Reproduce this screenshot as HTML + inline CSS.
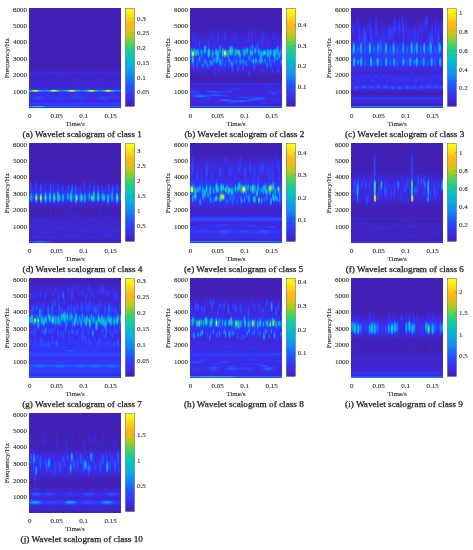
<!DOCTYPE html>
<html><head><meta charset="utf-8"><title>Wavelet scalograms</title>
<style>html,body{margin:0;padding:0;background:#fff}body{width:473px;height:550px;position:relative;overflow:hidden}</style></head>
<body>
<svg width="473" height="550" viewBox="0 0 473 550" style="position:absolute;left:0;top:0;font-family:'Liberation Serif',serif">
<defs>
<filter id="parula" filterUnits="userSpaceOnUse" x="0" y="0" width="91.0" height="99.4" color-interpolation-filters="sRGB"><feComponentTransfer>
<feFuncR type="table" tableValues="0.263 0.260 0.255 0.250 0.242 0.232 0.220 0.206 0.195 0.188 0.181 0.170 0.158 0.145 0.128 0.107 0.088 0.081 0.079 0.078 0.074 0.065 0.060 0.056 0.048 0.041 0.033 0.020 0.006 0.000 0.001 0.011 0.036 0.062 0.084 0.100 0.117 0.142 0.181 0.229 0.281 0.354 0.440 0.522 0.599 0.672 0.738 0.797 0.845 0.889 0.931 0.967 1.000 1.000 1.000 1.000 1.000 1.000 0.997 0.990 0.988 0.992 0.998 0.992"/>
<feFuncG type="table" tableValues="0.125 0.133 0.143 0.152 0.161 0.172 0.185 0.199 0.218 0.238 0.258 0.277 0.298 0.322 0.349 0.382 0.420 0.455 0.486 0.513 0.540 0.567 0.592 0.616 0.640 0.663 0.685 0.706 0.726 0.742 0.753 0.763 0.772 0.781 0.790 0.799 0.808 0.816 0.821 0.825 0.827 0.826 0.823 0.818 0.811 0.803 0.793 0.780 0.763 0.746 0.731 0.718 0.709 0.706 0.733 0.764 0.799 0.839 0.877 0.907 0.936 0.963 0.989 1.000"/>
<feFuncB type="table" tableValues="0.678 0.727 0.772 0.818 0.861 0.897 0.926 0.950 0.970 0.987 1.000 1.000 1.000 1.000 1.000 1.000 1.000 1.000 0.997 0.981 0.964 0.949 0.935 0.924 0.915 0.903 0.886 0.865 0.841 0.815 0.789 0.761 0.730 0.695 0.658 0.618 0.574 0.525 0.469 0.408 0.340 0.281 0.237 0.194 0.155 0.123 0.098 0.078 0.068 0.071 0.081 0.102 0.122 0.116 0.104 0.092 0.083 0.077 0.070 0.063 0.056 0.047 0.036 0.023"/>
</feComponentTransfer></filter>
<filter id="bl" filterUnits="userSpaceOnUse" x="-15" y="-15" width="121" height="129" color-interpolation-filters="sRGB"><feGaussianBlur stdDeviation="2.40 3.00"/></filter>
<filter id="bm" filterUnits="userSpaceOnUse" x="-15" y="-15" width="121" height="129" color-interpolation-filters="sRGB"><feGaussianBlur stdDeviation="0.90 1.10"/></filter>
<filter id="bs" filterUnits="userSpaceOnUse" x="-15" y="-15" width="121" height="129" color-interpolation-filters="sRGB"><feGaussianBlur stdDeviation="0.60 1.30"/></filter>
<filter id="bh" filterUnits="userSpaceOnUse" x="-15" y="-15" width="121" height="129" color-interpolation-filters="sRGB"><feGaussianBlur stdDeviation="1.40 0.45"/></filter>
<filter id="bd" filterUnits="userSpaceOnUse" x="-15" y="-15" width="121" height="129" color-interpolation-filters="sRGB"><feGaussianBlur stdDeviation="0.60 0.70"/></filter>
<linearGradient id="cb" x1="0" y1="1" x2="0" y2="0"><stop offset="0.000" stop-color="#4320ad"/><stop offset="0.048" stop-color="#4027d1"/><stop offset="0.095" stop-color="#382fec"/><stop offset="0.143" stop-color="#303dfc"/><stop offset="0.190" stop-color="#284cff"/><stop offset="0.238" stop-color="#1b62ff"/><stop offset="0.286" stop-color="#147cfe"/><stop offset="0.333" stop-color="#1191f2"/><stop offset="0.381" stop-color="#0ca3e9"/><stop offset="0.429" stop-color="#05b4dc"/><stop offset="0.476" stop-color="#00c0c9"/><stop offset="0.524" stop-color="#10c7b1"/><stop offset="0.571" stop-color="#1ece92"/><stop offset="0.619" stop-color="#3ad268"/><stop offset="0.667" stop-color="#70d23c"/><stop offset="0.714" stop-color="#abcd1f"/><stop offset="0.762" stop-color="#d7c311"/><stop offset="0.810" stop-color="#f7b71a"/><stop offset="0.857" stop-color="#ffbb1a"/><stop offset="0.905" stop-color="#ffd614"/><stop offset="0.952" stop-color="#fcef0e"/><stop offset="1.000" stop-color="#fdff06"/></linearGradient>
<filter id="tb" x="-5%" y="-5%" width="110%" height="110%"><feGaussianBlur stdDeviation="0.3"/></filter>
</defs>
<g transform="translate(29.70,8.40)">
<g filter="url(#parula)">
<rect x="-5" y="-5" width="101.0" height="109.4" fill="#000"/>
<g filter="url(#bl)" fill="#fff">
<rect x="-5.0" y="67.0" width="101.0" height="34.0" opacity="0.035"/>
</g>
<g filter="url(#bm)" fill="#fff">
<rect x="-5.0" y="-5.0" width="101.0" height="109.4" opacity="0.012"/>
<rect x="-5.0" y="63.3" width="101.0" height="2.6" opacity="0.075"/>
<rect x="-5.0" y="80.1" width="101.0" height="5.0" opacity="0.070"/>
<rect x="-5.0" y="85.5" width="101.0" height="7.0" opacity="0.050"/>
<ellipse cx="44.0" cy="87.9" rx="5.0" ry="1.0" opacity="0.100"/>
<ellipse cx="51.1" cy="89.9" rx="5.0" ry="1.0" opacity="0.100"/>
<ellipse cx="8.5" cy="89.3" rx="5.0" ry="1.0" opacity="0.160"/>
<ellipse cx="73.5" cy="89.9" rx="5.0" ry="1.0" opacity="0.160"/>
<ellipse cx="28.8" cy="90.9" rx="5.0" ry="1.0" opacity="0.080"/>
<ellipse cx="83.6" cy="87.9" rx="5.0" ry="1.0" opacity="0.100"/>
<ellipse cx="20.7" cy="86.9" rx="5.0" ry="1.0" opacity="0.080"/>
<rect x="-5.0" y="94.8" width="101.0" height="1.6" opacity="0.220"/>
</g>
<g filter="url(#bs)" fill="#fff">
<ellipse cx="0.4" cy="73.9" rx="0.8" ry="2.2" opacity="0.038"/>
<ellipse cx="5.0" cy="66.8" rx="1.1" ry="1.6" opacity="0.023"/>
<ellipse cx="8.6" cy="66.4" rx="0.7" ry="2.2" opacity="0.048"/>
<ellipse cx="9.8" cy="73.1" rx="1.1" ry="2.9" opacity="0.023"/>
<ellipse cx="12.2" cy="64.1" rx="0.9" ry="1.8" opacity="0.037"/>
<ellipse cx="15.3" cy="69.2" rx="0.8" ry="2.2" opacity="0.040"/>
<ellipse cx="18.9" cy="71.3" rx="0.9" ry="1.9" opacity="0.023"/>
<ellipse cx="23.8" cy="73.1" rx="0.9" ry="2.5" opacity="0.028"/>
<ellipse cx="27.3" cy="72.0" rx="0.8" ry="2.6" opacity="0.048"/>
<ellipse cx="30.1" cy="69.8" rx="0.9" ry="2.7" opacity="0.046"/>
<ellipse cx="31.3" cy="65.7" rx="1.1" ry="2.3" opacity="0.043"/>
<ellipse cx="33.5" cy="67.8" rx="0.8" ry="2.7" opacity="0.037"/>
<ellipse cx="36.9" cy="66.5" rx="1.0" ry="2.1" opacity="0.038"/>
<ellipse cx="41.0" cy="69.6" rx="1.0" ry="2.3" opacity="0.036"/>
<ellipse cx="44.0" cy="71.9" rx="1.0" ry="3.0" opacity="0.043"/>
<ellipse cx="46.7" cy="71.2" rx="0.8" ry="2.3" opacity="0.057"/>
<ellipse cx="50.9" cy="65.2" rx="0.8" ry="2.3" opacity="0.056"/>
<ellipse cx="53.3" cy="69.5" rx="0.9" ry="1.9" opacity="0.042"/>
<ellipse cx="57.5" cy="76.2" rx="1.1" ry="2.8" opacity="0.049"/>
<ellipse cx="60.1" cy="71.2" rx="0.9" ry="2.3" opacity="0.037"/>
<ellipse cx="60.8" cy="73.7" rx="0.8" ry="2.3" opacity="0.039"/>
<ellipse cx="64.8" cy="68.2" rx="0.8" ry="2.3" opacity="0.044"/>
<ellipse cx="68.6" cy="70.3" rx="0.8" ry="1.8" opacity="0.043"/>
<ellipse cx="72.4" cy="71.2" rx="1.1" ry="2.7" opacity="0.051"/>
<ellipse cx="73.6" cy="73.4" rx="0.7" ry="1.5" opacity="0.022"/>
<ellipse cx="78.1" cy="67.2" rx="0.8" ry="1.7" opacity="0.044"/>
<ellipse cx="79.9" cy="72.6" rx="0.9" ry="1.8" opacity="0.032"/>
<ellipse cx="84.1" cy="71.7" rx="0.9" ry="2.0" opacity="0.039"/>
<ellipse cx="85.0" cy="68.6" rx="0.8" ry="1.7" opacity="0.054"/>
<ellipse cx="89.5" cy="73.1" rx="0.8" ry="2.4" opacity="0.051"/>
</g>
<g filter="url(#bh)" fill="#fff">
<rect x="-5.0" y="81.7" width="101.0" height="1.5" opacity="0.270"/>
<ellipse cx="5.5" cy="82.4" rx="5.6" ry="1.1" opacity="0.420"/>
<ellipse cx="24.2" cy="82.4" rx="5.6" ry="1.1" opacity="0.420"/>
<ellipse cx="42.0" cy="82.4" rx="5.6" ry="1.1" opacity="0.420"/>
<ellipse cx="61.7" cy="82.4" rx="5.6" ry="1.1" opacity="0.420"/>
<ellipse cx="78.5" cy="82.4" rx="5.6" ry="1.1" opacity="0.420"/>
<rect x="-5.0" y="97.8" width="101.0" height="1.0" opacity="0.300"/>
</g>
<g filter="url(#bd)" fill="#fff">
<ellipse cx="5.5" cy="82.4" rx="3.2" ry="0.8" opacity="0.850"/>
<ellipse cx="24.2" cy="82.4" rx="3.2" ry="0.8" opacity="0.850"/>
<ellipse cx="42.0" cy="82.4" rx="3.2" ry="0.8" opacity="0.850"/>
<ellipse cx="61.7" cy="82.4" rx="3.2" ry="0.8" opacity="0.850"/>
<ellipse cx="78.5" cy="82.4" rx="3.2" ry="0.8" opacity="0.850"/>
<ellipse cx="8.0" cy="98.2" rx="8.0" ry="0.6" opacity="0.500"/>
</g>
</g>
<g filter="url(#tb)" stroke="#222" stroke-width="0.08">
<rect x="95.8" y="0.2" width="8.9" height="97.7" fill="url(#cb)" stroke="#333" stroke-width="0.4"/>
<line x1="103.5" x2="104.7" y1="9.90" y2="9.90" stroke="#333" stroke-width="0.4"/>
<text x="107.2" y="12.20" font-size="7" fill="#222">0.3</text>
<line x1="103.5" x2="104.7" y1="24.68" y2="24.68" stroke="#333" stroke-width="0.4"/>
<text x="107.2" y="26.98" font-size="7" fill="#222">0.25</text>
<line x1="103.5" x2="104.7" y1="39.46" y2="39.46" stroke="#333" stroke-width="0.4"/>
<text x="107.2" y="41.76" font-size="7" fill="#222">0.2</text>
<line x1="103.5" x2="104.7" y1="54.24" y2="54.24" stroke="#333" stroke-width="0.4"/>
<text x="107.2" y="56.54" font-size="7" fill="#222">0.15</text>
<line x1="103.5" x2="104.7" y1="69.02" y2="69.02" stroke="#333" stroke-width="0.4"/>
<text x="107.2" y="71.32" font-size="7" fill="#222">0.1</text>
<line x1="103.5" x2="104.7" y1="83.80" y2="83.80" stroke="#333" stroke-width="0.4"/>
<text x="107.2" y="86.10" font-size="7" fill="#222">0.05</text>
<text x="-2.6" y="85.53" font-size="7" text-anchor="end" fill="#222">1000</text>
<text x="-2.6" y="68.97" font-size="7" text-anchor="end" fill="#222">2000</text>
<text x="-2.6" y="52.40" font-size="7" text-anchor="end" fill="#222">3000</text>
<text x="-2.6" y="35.83" font-size="7" text-anchor="end" fill="#222">4000</text>
<text x="-2.6" y="19.27" font-size="7" text-anchor="end" fill="#222">5000</text>
<text x="-2.6" y="3.30" font-size="7" text-anchor="end" fill="#222">6000</text>
<text x="0.00" y="109.4" font-size="7" text-anchor="middle" fill="#222">0</text>
<text x="27.00" y="109.4" font-size="7" text-anchor="middle" fill="#222">0.05</text>
<text x="54.00" y="109.4" font-size="7" text-anchor="middle" fill="#222">0.1</text>
<text x="81.00" y="109.4" font-size="7" text-anchor="middle" fill="#222">0.15</text>
<text x="45.4" y="117.6" font-size="7" text-anchor="middle" fill="#222">Time/s</text>
<text transform="translate(-20.6,49.7) rotate(-90)" font-size="7.1" text-anchor="middle" fill="#222">Frequency/Hz</text>
<text x="-7.10" y="128.7" font-size="9.2" fill="#111" stroke-width="0.25">(a) Wavelet scalogram of class 1</text>
</g>
</g>
<g transform="translate(190.60,8.40)">
<g filter="url(#parula)">
<rect x="-5" y="-5" width="101.0" height="109.4" fill="#000"/>
<g filter="url(#bl)" fill="#fff">
<rect x="-5.0" y="22.0" width="101.0" height="44.0" opacity="0.030"/>
<rect x="-5.0" y="38.0" width="101.0" height="20.0" opacity="0.060"/>
<rect x="-5.0" y="77.0" width="101.0" height="20.0" opacity="0.060"/>
</g>
<g filter="url(#bm)" fill="#fff">
<rect x="-5.0" y="-5.0" width="101.0" height="109.4" opacity="0.012"/>
<rect x="-5.0" y="41.2" width="101.0" height="7.0" opacity="0.090"/>
<rect x="-5.0" y="49.4" width="101.0" height="8.0" opacity="0.060"/>
<ellipse cx="2.4" cy="45.3" rx="2.5" ry="3.0" opacity="0.300"/>
<ellipse cx="34.5" cy="44.7" rx="2.5" ry="3.2" opacity="0.300"/>
</g>
<g filter="url(#bs)" fill="#fff">
<ellipse cx="2.2" cy="32.3" rx="0.6" ry="6.3" opacity="0.079"/>
<ellipse cx="3.8" cy="30.6" rx="0.7" ry="5.4" opacity="0.071"/>
<ellipse cx="5.9" cy="33.4" rx="0.8" ry="5.9" opacity="0.094"/>
<ellipse cx="9.0" cy="34.6" rx="0.8" ry="4.8" opacity="0.052"/>
<ellipse cx="9.2" cy="35.5" rx="0.7" ry="4.5" opacity="0.088"/>
<ellipse cx="12.6" cy="31.8" rx="0.8" ry="3.9" opacity="0.038"/>
<ellipse cx="14.4" cy="34.2" rx="1.0" ry="5.7" opacity="0.047"/>
<ellipse cx="18.0" cy="34.7" rx="0.9" ry="5.9" opacity="0.089"/>
<ellipse cx="19.9" cy="32.0" rx="1.0" ry="6.8" opacity="0.046"/>
<ellipse cx="22.2" cy="27.4" rx="0.9" ry="4.8" opacity="0.067"/>
<ellipse cx="23.9" cy="35.3" rx="1.0" ry="4.4" opacity="0.087"/>
<ellipse cx="27.1" cy="28.9" rx="0.8" ry="5.3" opacity="0.090"/>
<ellipse cx="28.9" cy="28.2" rx="0.7" ry="5.8" opacity="0.046"/>
<ellipse cx="31.6" cy="31.3" rx="0.7" ry="6.6" opacity="0.054"/>
<ellipse cx="34.0" cy="29.8" rx="0.8" ry="5.6" opacity="0.070"/>
<ellipse cx="34.8" cy="26.5" rx="0.7" ry="5.0" opacity="0.090"/>
<ellipse cx="37.8" cy="37.6" rx="0.9" ry="6.6" opacity="0.047"/>
<ellipse cx="40.4" cy="34.4" rx="0.6" ry="5.6" opacity="0.052"/>
<ellipse cx="41.5" cy="32.4" rx="0.8" ry="6.4" opacity="0.050"/>
<ellipse cx="43.7" cy="29.7" rx="1.0" ry="4.7" opacity="0.078"/>
<ellipse cx="45.6" cy="29.5" rx="0.9" ry="3.3" opacity="0.092"/>
<ellipse cx="47.8" cy="32.9" rx="0.9" ry="3.1" opacity="0.051"/>
<ellipse cx="51.9" cy="32.5" rx="0.9" ry="4.5" opacity="0.039"/>
<ellipse cx="54.6" cy="33.2" rx="0.6" ry="3.1" opacity="0.056"/>
<ellipse cx="56.0" cy="31.0" rx="0.7" ry="3.1" opacity="0.062"/>
<ellipse cx="58.6" cy="29.1" rx="0.9" ry="6.6" opacity="0.080"/>
<ellipse cx="61.1" cy="29.8" rx="0.7" ry="5.6" opacity="0.055"/>
<ellipse cx="61.7" cy="26.7" rx="0.8" ry="6.5" opacity="0.044"/>
<ellipse cx="65.0" cy="27.3" rx="0.6" ry="6.8" opacity="0.051"/>
<ellipse cx="67.4" cy="34.1" rx="0.8" ry="3.1" opacity="0.069"/>
<ellipse cx="68.6" cy="32.0" rx="0.6" ry="3.4" opacity="0.073"/>
<ellipse cx="71.7" cy="31.4" rx="1.0" ry="6.7" opacity="0.094"/>
<ellipse cx="73.3" cy="28.2" rx="0.8" ry="5.5" opacity="0.083"/>
<ellipse cx="76.7" cy="32.1" rx="0.7" ry="4.7" opacity="0.067"/>
<ellipse cx="77.4" cy="35.1" rx="0.6" ry="5.9" opacity="0.050"/>
<ellipse cx="79.9" cy="32.0" rx="0.7" ry="3.9" opacity="0.049"/>
<ellipse cx="83.1" cy="27.7" rx="0.9" ry="3.8" opacity="0.089"/>
<ellipse cx="86.4" cy="31.8" rx="0.9" ry="4.7" opacity="0.066"/>
<ellipse cx="87.8" cy="35.0" rx="0.8" ry="3.7" opacity="0.042"/>
<ellipse cx="90.6" cy="32.4" rx="0.7" ry="5.1" opacity="0.090"/>
<ellipse cx="1.1" cy="42.4" rx="0.9" ry="2.5" opacity="0.344"/>
<ellipse cx="2.0" cy="49.4" rx="0.8" ry="4.2" opacity="0.340"/>
<ellipse cx="3.7" cy="41.9" rx="0.9" ry="2.9" opacity="0.316"/>
<ellipse cx="5.6" cy="44.5" rx="0.8" ry="3.2" opacity="0.416"/>
<ellipse cx="7.4" cy="43.9" rx="1.0" ry="3.3" opacity="0.279"/>
<ellipse cx="10.5" cy="42.5" rx="0.9" ry="2.7" opacity="0.180"/>
<ellipse cx="11.1" cy="45.5" rx="1.1" ry="3.9" opacity="0.152"/>
<ellipse cx="13.9" cy="41.5" rx="1.0" ry="3.9" opacity="0.289"/>
<ellipse cx="15.2" cy="40.4" rx="0.8" ry="3.6" opacity="0.283"/>
<ellipse cx="18.1" cy="44.8" rx="1.1" ry="4.4" opacity="0.387"/>
<ellipse cx="18.7" cy="44.1" rx="0.8" ry="3.4" opacity="0.342"/>
<ellipse cx="21.7" cy="46.1" rx="1.0" ry="4.1" opacity="0.173"/>
<ellipse cx="22.5" cy="45.0" rx="0.9" ry="2.6" opacity="0.170"/>
<ellipse cx="25.3" cy="43.8" rx="1.1" ry="3.8" opacity="0.182"/>
<ellipse cx="26.0" cy="44.2" rx="1.0" ry="3.4" opacity="0.297"/>
<ellipse cx="27.5" cy="46.8" rx="0.9" ry="4.4" opacity="0.364"/>
<ellipse cx="29.3" cy="40.7" rx="0.8" ry="4.3" opacity="0.279"/>
<ellipse cx="32.2" cy="43.5" rx="0.9" ry="4.5" opacity="0.372"/>
<ellipse cx="33.8" cy="45.2" rx="0.7" ry="3.7" opacity="0.401"/>
<ellipse cx="34.9" cy="45.5" rx="0.9" ry="3.5" opacity="0.262"/>
<ellipse cx="37.7" cy="46.7" rx="0.9" ry="4.4" opacity="0.241"/>
<ellipse cx="39.6" cy="42.6" rx="1.0" ry="4.0" opacity="0.392"/>
<ellipse cx="40.4" cy="42.4" rx="1.0" ry="4.5" opacity="0.329"/>
<ellipse cx="41.9" cy="42.4" rx="0.9" ry="3.9" opacity="0.401"/>
<ellipse cx="44.9" cy="44.0" rx="1.1" ry="4.0" opacity="0.321"/>
<ellipse cx="47.1" cy="43.5" rx="1.1" ry="2.7" opacity="0.382"/>
<ellipse cx="48.7" cy="44.9" rx="1.0" ry="2.9" opacity="0.378"/>
<ellipse cx="49.4" cy="47.0" rx="1.0" ry="3.4" opacity="0.219"/>
<ellipse cx="52.0" cy="42.5" rx="1.1" ry="2.6" opacity="0.146"/>
<ellipse cx="53.7" cy="44.1" rx="1.1" ry="3.8" opacity="0.364"/>
<ellipse cx="55.5" cy="43.0" rx="0.8" ry="3.5" opacity="0.153"/>
<ellipse cx="56.6" cy="42.2" rx="1.0" ry="2.8" opacity="0.363"/>
<ellipse cx="59.7" cy="41.4" rx="1.1" ry="4.2" opacity="0.184"/>
<ellipse cx="60.4" cy="45.5" rx="0.9" ry="3.4" opacity="0.230"/>
<ellipse cx="61.9" cy="39.0" rx="0.9" ry="3.6" opacity="0.256"/>
<ellipse cx="64.5" cy="42.0" rx="1.1" ry="3.1" opacity="0.333"/>
<ellipse cx="66.4" cy="39.5" rx="0.7" ry="4.1" opacity="0.233"/>
<ellipse cx="68.5" cy="42.8" rx="1.1" ry="3.8" opacity="0.259"/>
<ellipse cx="70.7" cy="46.2" rx="0.9" ry="3.6" opacity="0.392"/>
<ellipse cx="72.4" cy="45.4" rx="1.0" ry="3.1" opacity="0.213"/>
<ellipse cx="73.6" cy="44.0" rx="1.1" ry="2.7" opacity="0.382"/>
<ellipse cx="75.3" cy="45.4" rx="0.9" ry="3.1" opacity="0.167"/>
<ellipse cx="77.3" cy="44.9" rx="0.8" ry="4.3" opacity="0.412"/>
<ellipse cx="79.1" cy="45.7" rx="1.0" ry="4.4" opacity="0.240"/>
<ellipse cx="80.3" cy="43.9" rx="1.0" ry="3.2" opacity="0.248"/>
<ellipse cx="83.3" cy="45.1" rx="0.8" ry="4.1" opacity="0.329"/>
<ellipse cx="84.4" cy="44.7" rx="1.1" ry="4.4" opacity="0.291"/>
<ellipse cx="86.8" cy="42.2" rx="1.1" ry="4.0" opacity="0.363"/>
<ellipse cx="88.9" cy="46.9" rx="1.1" ry="3.1" opacity="0.326"/>
<ellipse cx="90.4" cy="42.5" rx="0.9" ry="3.3" opacity="0.196"/>
<ellipse cx="2.2" cy="51.4" rx="1.1" ry="2.1" opacity="0.367"/>
<ellipse cx="2.6" cy="54.6" rx="0.7" ry="2.4" opacity="0.210"/>
<ellipse cx="6.6" cy="55.3" rx="0.9" ry="2.7" opacity="0.178"/>
<ellipse cx="8.7" cy="50.5" rx="0.9" ry="2.3" opacity="0.282"/>
<ellipse cx="9.4" cy="50.9" rx="0.7" ry="2.0" opacity="0.169"/>
<ellipse cx="11.9" cy="56.9" rx="0.9" ry="2.2" opacity="0.205"/>
<ellipse cx="14.2" cy="52.9" rx="0.8" ry="2.4" opacity="0.316"/>
<ellipse cx="16.1" cy="55.5" rx="0.8" ry="3.2" opacity="0.228"/>
<ellipse cx="20.0" cy="54.4" rx="1.1" ry="2.4" opacity="0.316"/>
<ellipse cx="21.9" cy="54.6" rx="0.9" ry="3.5" opacity="0.218"/>
<ellipse cx="23.8" cy="51.5" rx="1.1" ry="2.8" opacity="0.269"/>
<ellipse cx="26.3" cy="51.6" rx="1.1" ry="3.5" opacity="0.335"/>
<ellipse cx="28.3" cy="50.7" rx="0.7" ry="2.0" opacity="0.376"/>
<ellipse cx="29.9" cy="54.1" rx="1.1" ry="3.0" opacity="0.355"/>
<ellipse cx="32.0" cy="51.5" rx="0.7" ry="2.0" opacity="0.208"/>
<ellipse cx="34.5" cy="56.1" rx="0.8" ry="2.9" opacity="0.140"/>
<ellipse cx="38.6" cy="52.4" rx="1.1" ry="2.2" opacity="0.242"/>
<ellipse cx="39.9" cy="52.3" rx="0.8" ry="2.7" opacity="0.132"/>
<ellipse cx="41.4" cy="56.0" rx="0.9" ry="3.0" opacity="0.345"/>
<ellipse cx="43.5" cy="51.0" rx="0.9" ry="2.0" opacity="0.146"/>
<ellipse cx="45.7" cy="52.9" rx="0.8" ry="2.4" opacity="0.279"/>
<ellipse cx="49.7" cy="53.4" rx="1.1" ry="3.0" opacity="0.248"/>
<ellipse cx="52.1" cy="53.3" rx="1.1" ry="2.9" opacity="0.171"/>
<ellipse cx="53.2" cy="53.6" rx="0.8" ry="2.5" opacity="0.228"/>
<ellipse cx="55.5" cy="53.9" rx="0.9" ry="2.6" opacity="0.190"/>
<ellipse cx="58.6" cy="49.3" rx="1.1" ry="2.2" opacity="0.300"/>
<ellipse cx="60.7" cy="52.5" rx="0.9" ry="2.1" opacity="0.167"/>
<ellipse cx="62.7" cy="52.4" rx="1.0" ry="2.9" opacity="0.310"/>
<ellipse cx="65.3" cy="52.2" rx="1.0" ry="3.2" opacity="0.334"/>
<ellipse cx="67.3" cy="52.9" rx="0.7" ry="2.1" opacity="0.144"/>
<ellipse cx="69.7" cy="51.5" rx="1.1" ry="3.5" opacity="0.351"/>
<ellipse cx="71.6" cy="52.4" rx="0.8" ry="2.2" opacity="0.331"/>
<ellipse cx="74.4" cy="52.0" rx="1.0" ry="2.5" opacity="0.224"/>
<ellipse cx="76.7" cy="57.0" rx="0.9" ry="2.9" opacity="0.148"/>
<ellipse cx="78.9" cy="52.2" rx="0.8" ry="2.4" opacity="0.256"/>
<ellipse cx="80.5" cy="57.1" rx="0.9" ry="3.4" opacity="0.169"/>
<ellipse cx="83.7" cy="51.5" rx="0.9" ry="2.6" opacity="0.206"/>
<ellipse cx="85.3" cy="49.5" rx="0.8" ry="2.1" opacity="0.240"/>
<ellipse cx="86.9" cy="50.2" rx="0.8" ry="2.1" opacity="0.274"/>
<ellipse cx="90.7" cy="53.3" rx="0.8" ry="2.8" opacity="0.288"/>
<ellipse cx="2.7" cy="59.2" rx="0.8" ry="2.8" opacity="0.093"/>
<ellipse cx="3.1" cy="58.1" rx="1.1" ry="1.8" opacity="0.094"/>
<ellipse cx="7.0" cy="59.9" rx="0.8" ry="2.2" opacity="0.107"/>
<ellipse cx="11.6" cy="64.1" rx="0.7" ry="2.4" opacity="0.073"/>
<ellipse cx="12.6" cy="58.2" rx="0.7" ry="2.4" opacity="0.164"/>
<ellipse cx="17.1" cy="58.6" rx="0.9" ry="2.7" opacity="0.164"/>
<ellipse cx="18.7" cy="58.1" rx="1.1" ry="1.8" opacity="0.140"/>
<ellipse cx="23.9" cy="66.2" rx="1.0" ry="2.6" opacity="0.119"/>
<ellipse cx="25.0" cy="60.3" rx="1.0" ry="1.7" opacity="0.130"/>
<ellipse cx="28.5" cy="60.9" rx="0.9" ry="3.0" opacity="0.103"/>
<ellipse cx="31.8" cy="58.8" rx="0.8" ry="2.3" opacity="0.153"/>
<ellipse cx="33.6" cy="61.3" rx="1.1" ry="2.5" opacity="0.064"/>
<ellipse cx="38.5" cy="57.6" rx="0.7" ry="2.3" opacity="0.118"/>
<ellipse cx="41.8" cy="61.8" rx="1.0" ry="2.6" opacity="0.143"/>
<ellipse cx="43.1" cy="62.9" rx="0.7" ry="1.7" opacity="0.095"/>
<ellipse cx="47.1" cy="60.5" rx="1.0" ry="2.5" opacity="0.167"/>
<ellipse cx="48.8" cy="59.1" rx="1.0" ry="2.2" opacity="0.074"/>
<ellipse cx="52.5" cy="59.7" rx="1.0" ry="2.2" opacity="0.168"/>
<ellipse cx="55.7" cy="57.0" rx="1.0" ry="1.7" opacity="0.149"/>
<ellipse cx="58.7" cy="64.9" rx="1.1" ry="2.5" opacity="0.151"/>
<ellipse cx="63.4" cy="53.6" rx="0.7" ry="2.0" opacity="0.155"/>
<ellipse cx="63.7" cy="59.7" rx="1.0" ry="3.0" opacity="0.141"/>
<ellipse cx="69.3" cy="62.8" rx="1.0" ry="2.2" opacity="0.107"/>
<ellipse cx="72.2" cy="61.5" rx="0.8" ry="1.6" opacity="0.127"/>
<ellipse cx="75.7" cy="61.8" rx="0.8" ry="2.9" opacity="0.063"/>
<ellipse cx="76.6" cy="56.8" rx="1.1" ry="2.8" opacity="0.105"/>
<ellipse cx="81.6" cy="62.7" rx="0.7" ry="1.9" opacity="0.080"/>
<ellipse cx="81.9" cy="62.2" rx="0.9" ry="2.3" opacity="0.091"/>
<ellipse cx="86.9" cy="62.9" rx="0.9" ry="2.1" opacity="0.164"/>
<ellipse cx="88.4" cy="61.1" rx="0.9" ry="2.2" opacity="0.101"/>
</g>
<g filter="url(#bh)" fill="#fff">
<rect x="-5.0" y="75.0" width="101.0" height="1.4" opacity="0.100"/>
<ellipse cx="3.0" cy="83.7" rx="5.2" ry="0.9" opacity="0.145"/>
<ellipse cx="5.5" cy="85.9" rx="6.2" ry="0.7" opacity="0.109"/>
<ellipse cx="6.5" cy="87.5" rx="6.5" ry="1.2" opacity="0.114"/>
<ellipse cx="10.8" cy="88.7" rx="4.3" ry="0.9" opacity="0.096"/>
<ellipse cx="13.4" cy="87.7" rx="6.8" ry="1.2" opacity="0.132"/>
<ellipse cx="17.1" cy="90.8" rx="3.1" ry="0.8" opacity="0.134"/>
<ellipse cx="21.2" cy="83.0" rx="6.4" ry="0.7" opacity="0.121"/>
<ellipse cx="22.3" cy="86.5" rx="7.2" ry="0.9" opacity="0.116"/>
<ellipse cx="26.0" cy="83.7" rx="7.8" ry="1.1" opacity="0.092"/>
<ellipse cx="28.8" cy="87.0" rx="7.5" ry="1.0" opacity="0.115"/>
<ellipse cx="33.2" cy="92.0" rx="6.1" ry="0.9" opacity="0.146"/>
<ellipse cx="36.3" cy="91.6" rx="5.0" ry="1.0" opacity="0.127"/>
<ellipse cx="38.5" cy="83.3" rx="4.7" ry="0.7" opacity="0.116"/>
<ellipse cx="41.4" cy="93.4" rx="5.0" ry="0.9" opacity="0.149"/>
<ellipse cx="44.9" cy="80.6" rx="5.9" ry="0.8" opacity="0.115"/>
<ellipse cx="47.9" cy="92.9" rx="7.5" ry="1.0" opacity="0.117"/>
<ellipse cx="49.7" cy="92.3" rx="3.6" ry="1.2" opacity="0.086"/>
<ellipse cx="53.4" cy="89.1" rx="6.7" ry="0.7" opacity="0.133"/>
<ellipse cx="55.6" cy="92.7" rx="5.0" ry="1.2" opacity="0.094"/>
<ellipse cx="57.9" cy="90.6" rx="3.1" ry="0.6" opacity="0.099"/>
<ellipse cx="62.8" cy="91.4" rx="5.4" ry="1.1" opacity="0.147"/>
<ellipse cx="66.4" cy="89.1" rx="6.2" ry="0.9" opacity="0.072"/>
<ellipse cx="68.6" cy="89.7" rx="7.2" ry="0.9" opacity="0.123"/>
<ellipse cx="71.2" cy="90.9" rx="4.4" ry="0.9" opacity="0.107"/>
<ellipse cx="73.5" cy="94.4" rx="3.9" ry="0.7" opacity="0.131"/>
<ellipse cx="78.0" cy="78.7" rx="4.1" ry="1.0" opacity="0.074"/>
<ellipse cx="81.5" cy="83.9" rx="3.8" ry="0.8" opacity="0.097"/>
<ellipse cx="83.0" cy="85.5" rx="3.9" ry="0.7" opacity="0.120"/>
<ellipse cx="87.7" cy="91.1" rx="7.0" ry="0.7" opacity="0.071"/>
<ellipse cx="90.1" cy="83.4" rx="3.0" ry="0.7" opacity="0.128"/>
<rect x="-5.0" y="97.7" width="101.0" height="1.2" opacity="0.280"/>
</g>
<g filter="url(#bd)" fill="#fff">
<ellipse cx="2.4" cy="45.3" rx="1.2" ry="2.2" opacity="0.800"/>
<ellipse cx="34.5" cy="44.7" rx="1.2" ry="2.4" opacity="0.850"/>
<ellipse cx="61.3" cy="44.7" rx="0.9" ry="2.0" opacity="0.450"/>
<ellipse cx="74.5" cy="44.7" rx="0.8" ry="2.0" opacity="0.350"/>
<ellipse cx="48.1" cy="43.2" rx="0.8" ry="1.8" opacity="0.300"/>
</g>
</g>
<g filter="url(#tb)" stroke="#222" stroke-width="0.08">
<rect x="95.8" y="0.2" width="8.9" height="97.7" fill="url(#cb)" stroke="#333" stroke-width="0.4"/>
<line x1="103.5" x2="104.7" y1="16.80" y2="16.80" stroke="#333" stroke-width="0.4"/>
<text x="107.2" y="19.10" font-size="7" fill="#222">0.4</text>
<line x1="103.5" x2="104.7" y1="37.20" y2="37.20" stroke="#333" stroke-width="0.4"/>
<text x="107.2" y="39.50" font-size="7" fill="#222">0.3</text>
<line x1="103.5" x2="104.7" y1="57.60" y2="57.60" stroke="#333" stroke-width="0.4"/>
<text x="107.2" y="59.90" font-size="7" fill="#222">0.2</text>
<line x1="103.5" x2="104.7" y1="78.00" y2="78.00" stroke="#333" stroke-width="0.4"/>
<text x="107.2" y="80.30" font-size="7" fill="#222">0.1</text>
<text x="-2.6" y="85.53" font-size="7" text-anchor="end" fill="#222">1000</text>
<text x="-2.6" y="68.97" font-size="7" text-anchor="end" fill="#222">2000</text>
<text x="-2.6" y="52.40" font-size="7" text-anchor="end" fill="#222">3000</text>
<text x="-2.6" y="35.83" font-size="7" text-anchor="end" fill="#222">4000</text>
<text x="-2.6" y="19.27" font-size="7" text-anchor="end" fill="#222">5000</text>
<text x="-2.6" y="3.30" font-size="7" text-anchor="end" fill="#222">6000</text>
<text x="0.00" y="109.4" font-size="7" text-anchor="middle" fill="#222">0</text>
<text x="27.00" y="109.4" font-size="7" text-anchor="middle" fill="#222">0.05</text>
<text x="54.00" y="109.4" font-size="7" text-anchor="middle" fill="#222">0.1</text>
<text x="81.00" y="109.4" font-size="7" text-anchor="middle" fill="#222">0.15</text>
<text x="45.4" y="117.6" font-size="7" text-anchor="middle" fill="#222">Time/s</text>
<text transform="translate(-20.6,49.7) rotate(-90)" font-size="7.1" text-anchor="middle" fill="#222">Frequency/Hz</text>
<text x="-6.10" y="128.7" font-size="9.2" fill="#111" stroke-width="0.25">(b) Wavelet scalogram of class 2</text>
</g>
</g>
<g transform="translate(351.70,8.40)">
<g filter="url(#parula)">
<rect x="-5" y="-5" width="101.0" height="109.4" fill="#000"/>
<g filter="url(#bl)" fill="#fff">
<rect x="-5.0" y="15.0" width="101.0" height="50.0" opacity="0.030"/>
<rect x="-5.0" y="35.0" width="101.0" height="24.0" opacity="0.110"/>
<rect x="-5.0" y="67.0" width="101.0" height="14.0" opacity="0.075"/>
</g>
<g filter="url(#bm)" fill="#fff">
<rect x="-5.0" y="-5.0" width="101.0" height="109.4" opacity="0.012"/>
<ellipse cx="3.0" cy="68.1" rx="2.2" ry="1.0" opacity="0.150"/>
<ellipse cx="6.5" cy="71.3" rx="1.2" ry="1.6" opacity="0.120"/>
<ellipse cx="5.0" cy="79.4" rx="2.6" ry="1.1" opacity="0.270"/>
<ellipse cx="10.2" cy="67.7" rx="2.2" ry="1.0" opacity="0.150"/>
<ellipse cx="13.7" cy="71.4" rx="1.2" ry="1.6" opacity="0.120"/>
<ellipse cx="12.2" cy="78.8" rx="2.6" ry="1.1" opacity="0.270"/>
<ellipse cx="17.4" cy="67.5" rx="2.2" ry="1.0" opacity="0.150"/>
<ellipse cx="20.9" cy="71.9" rx="1.2" ry="1.6" opacity="0.120"/>
<ellipse cx="19.4" cy="78.9" rx="2.6" ry="1.1" opacity="0.270"/>
<ellipse cx="24.6" cy="67.9" rx="2.2" ry="1.0" opacity="0.150"/>
<ellipse cx="28.1" cy="71.4" rx="1.2" ry="1.6" opacity="0.120"/>
<ellipse cx="26.6" cy="78.7" rx="2.6" ry="1.1" opacity="0.270"/>
<ellipse cx="31.8" cy="67.6" rx="2.2" ry="1.0" opacity="0.150"/>
<ellipse cx="35.3" cy="71.9" rx="1.2" ry="1.6" opacity="0.120"/>
<ellipse cx="33.8" cy="78.5" rx="2.6" ry="1.1" opacity="0.270"/>
<ellipse cx="39.0" cy="67.3" rx="2.2" ry="1.0" opacity="0.150"/>
<ellipse cx="42.5" cy="71.4" rx="1.2" ry="1.6" opacity="0.120"/>
<ellipse cx="41.0" cy="79.5" rx="2.6" ry="1.1" opacity="0.270"/>
<ellipse cx="46.2" cy="68.4" rx="2.2" ry="1.0" opacity="0.150"/>
<ellipse cx="49.7" cy="71.2" rx="1.2" ry="1.6" opacity="0.120"/>
<ellipse cx="48.2" cy="79.5" rx="2.6" ry="1.1" opacity="0.270"/>
<ellipse cx="53.4" cy="68.1" rx="2.2" ry="1.0" opacity="0.150"/>
<ellipse cx="56.9" cy="71.0" rx="1.2" ry="1.6" opacity="0.120"/>
<ellipse cx="55.4" cy="79.0" rx="2.6" ry="1.1" opacity="0.270"/>
<ellipse cx="60.6" cy="66.7" rx="2.2" ry="1.0" opacity="0.150"/>
<ellipse cx="64.1" cy="72.1" rx="1.2" ry="1.6" opacity="0.120"/>
<ellipse cx="62.6" cy="79.2" rx="2.6" ry="1.1" opacity="0.270"/>
<ellipse cx="67.8" cy="68.3" rx="2.2" ry="1.0" opacity="0.150"/>
<ellipse cx="71.3" cy="72.1" rx="1.2" ry="1.6" opacity="0.120"/>
<ellipse cx="69.8" cy="79.2" rx="2.6" ry="1.1" opacity="0.270"/>
<ellipse cx="75.0" cy="68.0" rx="2.2" ry="1.0" opacity="0.150"/>
<ellipse cx="78.5" cy="71.6" rx="1.2" ry="1.6" opacity="0.120"/>
<ellipse cx="77.0" cy="78.5" rx="2.6" ry="1.1" opacity="0.270"/>
<ellipse cx="82.2" cy="67.7" rx="2.2" ry="1.0" opacity="0.150"/>
<ellipse cx="85.7" cy="70.5" rx="1.2" ry="1.6" opacity="0.120"/>
<ellipse cx="84.2" cy="78.6" rx="2.6" ry="1.1" opacity="0.270"/>
<ellipse cx="89.4" cy="68.0" rx="2.2" ry="1.0" opacity="0.150"/>
<ellipse cx="92.9" cy="70.6" rx="1.2" ry="1.6" opacity="0.120"/>
<ellipse cx="91.4" cy="78.5" rx="2.6" ry="1.1" opacity="0.270"/>
<rect x="-5.0" y="78.0" width="101.0" height="2.0" opacity="0.060"/>
<rect x="-5.0" y="88.8" width="101.0" height="2.4" opacity="0.130"/>
<rect x="-5.0" y="87.0" width="101.0" height="8.0" opacity="0.030"/>
</g>
<g filter="url(#bs)" fill="#fff">
<ellipse cx="0.5" cy="18.5" rx="1.3" ry="8.8" opacity="0.049"/>
<ellipse cx="2.1" cy="22.4" rx="1.4" ry="6.6" opacity="0.062"/>
<ellipse cx="6.2" cy="12.8" rx="1.2" ry="8.8" opacity="0.056"/>
<ellipse cx="7.5" cy="26.1" rx="1.4" ry="8.1" opacity="0.103"/>
<ellipse cx="9.7" cy="33.3" rx="1.3" ry="6.8" opacity="0.046"/>
<ellipse cx="12.1" cy="28.0" rx="1.2" ry="9.3" opacity="0.114"/>
<ellipse cx="13.9" cy="29.3" rx="1.4" ry="7.7" opacity="0.118"/>
<ellipse cx="16.3" cy="21.1" rx="1.0" ry="5.8" opacity="0.061"/>
<ellipse cx="18.5" cy="16.2" rx="1.1" ry="8.0" opacity="0.074"/>
<ellipse cx="19.3" cy="27.3" rx="1.3" ry="8.5" opacity="0.116"/>
<ellipse cx="22.1" cy="34.7" rx="1.5" ry="9.0" opacity="0.057"/>
<ellipse cx="24.5" cy="18.9" rx="1.5" ry="10.4" opacity="0.089"/>
<ellipse cx="26.3" cy="26.7" rx="1.2" ry="6.7" opacity="0.049"/>
<ellipse cx="28.7" cy="35.0" rx="1.5" ry="5.5" opacity="0.107"/>
<ellipse cx="29.8" cy="26.9" rx="1.4" ry="10.2" opacity="0.047"/>
<ellipse cx="32.3" cy="28.1" rx="0.9" ry="9.3" opacity="0.070"/>
<ellipse cx="34.9" cy="31.1" rx="1.5" ry="6.9" opacity="0.050"/>
<ellipse cx="36.4" cy="23.1" rx="0.9" ry="6.2" opacity="0.076"/>
<ellipse cx="38.5" cy="25.0" rx="1.4" ry="6.9" opacity="0.120"/>
<ellipse cx="41.1" cy="25.5" rx="1.1" ry="7.8" opacity="0.085"/>
<ellipse cx="42.7" cy="17.7" rx="1.3" ry="10.6" opacity="0.084"/>
<ellipse cx="44.3" cy="19.7" rx="1.3" ry="6.4" opacity="0.068"/>
<ellipse cx="47.5" cy="16.5" rx="0.9" ry="7.5" opacity="0.090"/>
<ellipse cx="47.6" cy="23.0" rx="1.3" ry="8.8" opacity="0.048"/>
<ellipse cx="50.9" cy="15.2" rx="1.1" ry="9.2" opacity="0.102"/>
<ellipse cx="51.8" cy="25.9" rx="1.0" ry="9.1" opacity="0.120"/>
<ellipse cx="54.3" cy="16.3" rx="1.1" ry="7.2" opacity="0.068"/>
<ellipse cx="56.6" cy="26.2" rx="1.3" ry="6.8" opacity="0.074"/>
<ellipse cx="59.5" cy="31.7" rx="1.3" ry="6.9" opacity="0.061"/>
<ellipse cx="61.6" cy="25.3" rx="1.1" ry="6.1" opacity="0.078"/>
<ellipse cx="63.5" cy="28.2" rx="1.1" ry="10.0" opacity="0.078"/>
<ellipse cx="65.9" cy="27.2" rx="1.0" ry="7.0" opacity="0.095"/>
<ellipse cx="68.0" cy="19.9" rx="1.0" ry="8.2" opacity="0.059"/>
<ellipse cx="69.9" cy="25.3" rx="1.4" ry="6.1" opacity="0.066"/>
<ellipse cx="72.0" cy="17.2" rx="1.1" ry="5.8" opacity="0.067"/>
<ellipse cx="74.0" cy="15.5" rx="1.1" ry="7.1" opacity="0.077"/>
<ellipse cx="75.3" cy="12.6" rx="1.0" ry="5.0" opacity="0.119"/>
<ellipse cx="78.3" cy="31.3" rx="1.5" ry="7.6" opacity="0.119"/>
<ellipse cx="80.5" cy="25.7" rx="1.4" ry="9.0" opacity="0.085"/>
<ellipse cx="81.3" cy="33.8" rx="1.1" ry="6.4" opacity="0.049"/>
<ellipse cx="83.9" cy="21.5" rx="0.9" ry="10.4" opacity="0.099"/>
<ellipse cx="86.7" cy="34.6" rx="1.4" ry="10.4" opacity="0.090"/>
<ellipse cx="86.9" cy="23.9" rx="1.1" ry="9.0" opacity="0.085"/>
<ellipse cx="89.8" cy="20.3" rx="1.5" ry="8.7" opacity="0.071"/>
<ellipse cx="2.0" cy="39.8" rx="1.1" ry="5.8" opacity="0.411"/>
<ellipse cx="2.4" cy="53.4" rx="1.1" ry="4.4" opacity="0.397"/>
<ellipse cx="6.1" cy="41.2" rx="0.9" ry="4.0" opacity="0.145"/>
<ellipse cx="6.1" cy="54.4" rx="0.9" ry="3.4" opacity="0.145"/>
<ellipse cx="9.3" cy="39.8" rx="1.1" ry="5.8" opacity="0.295"/>
<ellipse cx="9.6" cy="53.4" rx="1.1" ry="4.4" opacity="0.403"/>
<ellipse cx="13.2" cy="41.2" rx="0.9" ry="4.0" opacity="0.145"/>
<ellipse cx="13.2" cy="54.4" rx="0.9" ry="3.4" opacity="0.145"/>
<ellipse cx="18.1" cy="39.8" rx="1.1" ry="5.8" opacity="0.399"/>
<ellipse cx="19.4" cy="53.4" rx="1.1" ry="4.4" opacity="0.401"/>
<ellipse cx="22.3" cy="41.2" rx="0.9" ry="4.0" opacity="0.145"/>
<ellipse cx="22.3" cy="54.4" rx="0.9" ry="3.4" opacity="0.145"/>
<ellipse cx="26.3" cy="39.8" rx="1.1" ry="5.8" opacity="0.262"/>
<ellipse cx="26.0" cy="53.4" rx="1.1" ry="4.4" opacity="0.411"/>
<ellipse cx="29.4" cy="41.2" rx="0.9" ry="4.0" opacity="0.145"/>
<ellipse cx="29.4" cy="54.4" rx="0.9" ry="3.4" opacity="0.145"/>
<ellipse cx="34.2" cy="39.8" rx="1.1" ry="5.8" opacity="0.308"/>
<ellipse cx="34.5" cy="53.4" rx="1.1" ry="4.4" opacity="0.353"/>
<ellipse cx="38.6" cy="41.2" rx="0.9" ry="4.0" opacity="0.145"/>
<ellipse cx="38.6" cy="54.4" rx="0.9" ry="3.4" opacity="0.145"/>
<ellipse cx="41.9" cy="39.8" rx="1.1" ry="5.8" opacity="0.343"/>
<ellipse cx="42.5" cy="53.4" rx="1.1" ry="4.4" opacity="0.261"/>
<ellipse cx="45.7" cy="41.2" rx="0.9" ry="4.0" opacity="0.145"/>
<ellipse cx="45.7" cy="54.4" rx="0.9" ry="3.4" opacity="0.145"/>
<ellipse cx="51.4" cy="39.8" rx="1.1" ry="5.8" opacity="0.283"/>
<ellipse cx="51.6" cy="53.4" rx="1.1" ry="4.4" opacity="0.273"/>
<ellipse cx="55.8" cy="41.2" rx="0.9" ry="4.0" opacity="0.145"/>
<ellipse cx="55.8" cy="54.4" rx="0.9" ry="3.4" opacity="0.145"/>
<ellipse cx="60.0" cy="39.8" rx="1.1" ry="5.8" opacity="0.410"/>
<ellipse cx="58.6" cy="53.4" rx="1.1" ry="4.4" opacity="0.348"/>
<ellipse cx="62.9" cy="41.2" rx="0.9" ry="4.0" opacity="0.145"/>
<ellipse cx="62.9" cy="54.4" rx="0.9" ry="3.4" opacity="0.145"/>
<ellipse cx="65.1" cy="39.8" rx="1.1" ry="5.8" opacity="0.316"/>
<ellipse cx="65.1" cy="53.4" rx="1.1" ry="4.4" opacity="0.374"/>
<ellipse cx="69.0" cy="41.2" rx="0.9" ry="4.0" opacity="0.145"/>
<ellipse cx="69.0" cy="54.4" rx="0.9" ry="3.4" opacity="0.145"/>
<ellipse cx="72.6" cy="39.8" rx="1.1" ry="5.8" opacity="0.324"/>
<ellipse cx="72.0" cy="53.4" rx="1.1" ry="4.4" opacity="0.318"/>
<ellipse cx="76.1" cy="41.2" rx="0.9" ry="4.0" opacity="0.145"/>
<ellipse cx="76.1" cy="54.4" rx="0.9" ry="3.4" opacity="0.145"/>
<ellipse cx="79.0" cy="39.8" rx="1.1" ry="5.8" opacity="0.358"/>
<ellipse cx="79.9" cy="53.4" rx="1.1" ry="4.4" opacity="0.327"/>
<ellipse cx="83.2" cy="41.2" rx="0.9" ry="4.0" opacity="0.145"/>
<ellipse cx="83.2" cy="54.4" rx="0.9" ry="3.4" opacity="0.145"/>
<ellipse cx="88.0" cy="39.8" rx="1.1" ry="5.8" opacity="0.292"/>
<ellipse cx="88.5" cy="53.4" rx="1.1" ry="4.4" opacity="0.366"/>
<ellipse cx="92.3" cy="41.2" rx="0.9" ry="4.0" opacity="0.145"/>
<ellipse cx="92.3" cy="54.4" rx="0.9" ry="3.4" opacity="0.145"/>
</g>
<g filter="url(#bh)" fill="#fff">
<rect x="-5.0" y="93.4" width="101.0" height="1.2" opacity="0.070"/>
<rect x="-5.0" y="97.8" width="101.0" height="1.1" opacity="0.420"/>
</g>
<g filter="url(#bd)" fill="#fff">
<ellipse cx="18.7" cy="39.8" rx="0.7" ry="2.2" opacity="0.220"/>
<ellipse cx="34.9" cy="39.8" rx="0.7" ry="2.2" opacity="0.220"/>
<ellipse cx="88.7" cy="39.8" rx="0.7" ry="2.2" opacity="0.220"/>
<ellipse cx="6.5" cy="53.4" rx="0.7" ry="2.2" opacity="0.220"/>
<ellipse cx="42.0" cy="53.4" rx="0.7" ry="2.2" opacity="0.220"/>
<ellipse cx="52.2" cy="53.4" rx="0.7" ry="2.2" opacity="0.220"/>
<ellipse cx="62.3" cy="53.4" rx="0.7" ry="2.2" opacity="0.220"/>
</g>
</g>
<g filter="url(#tb)" stroke="#222" stroke-width="0.08">
<rect x="95.8" y="0.2" width="8.9" height="97.7" fill="url(#cb)" stroke="#333" stroke-width="0.4"/>
<line x1="103.5" x2="104.7" y1="4.80" y2="4.80" stroke="#333" stroke-width="0.4"/>
<text x="107.2" y="7.10" font-size="7" fill="#222">1</text>
<line x1="103.5" x2="104.7" y1="23.50" y2="23.50" stroke="#333" stroke-width="0.4"/>
<text x="107.2" y="25.80" font-size="7" fill="#222">0.8</text>
<line x1="103.5" x2="104.7" y1="42.20" y2="42.20" stroke="#333" stroke-width="0.4"/>
<text x="107.2" y="44.50" font-size="7" fill="#222">0.6</text>
<line x1="103.5" x2="104.7" y1="60.90" y2="60.90" stroke="#333" stroke-width="0.4"/>
<text x="107.2" y="63.20" font-size="7" fill="#222">0.4</text>
<line x1="103.5" x2="104.7" y1="79.60" y2="79.60" stroke="#333" stroke-width="0.4"/>
<text x="107.2" y="81.90" font-size="7" fill="#222">0.2</text>
<text x="-2.6" y="85.53" font-size="7" text-anchor="end" fill="#222">1000</text>
<text x="-2.6" y="68.97" font-size="7" text-anchor="end" fill="#222">2000</text>
<text x="-2.6" y="52.40" font-size="7" text-anchor="end" fill="#222">3000</text>
<text x="-2.6" y="35.83" font-size="7" text-anchor="end" fill="#222">4000</text>
<text x="-2.6" y="19.27" font-size="7" text-anchor="end" fill="#222">5000</text>
<text x="-2.6" y="3.30" font-size="7" text-anchor="end" fill="#222">6000</text>
<text x="0.00" y="109.4" font-size="7" text-anchor="middle" fill="#222">0</text>
<text x="27.00" y="109.4" font-size="7" text-anchor="middle" fill="#222">0.05</text>
<text x="54.00" y="109.4" font-size="7" text-anchor="middle" fill="#222">0.1</text>
<text x="81.00" y="109.4" font-size="7" text-anchor="middle" fill="#222">0.15</text>
<text x="45.4" y="117.6" font-size="7" text-anchor="middle" fill="#222">Time/s</text>
<text transform="translate(-20.6,49.7) rotate(-90)" font-size="7.1" text-anchor="middle" fill="#222">Frequency/Hz</text>
<text x="-6.70" y="128.7" font-size="9.2" fill="#111" stroke-width="0.25">(c) Wavelet scalogram of class 3</text>
</g>
</g>
<g transform="translate(29.70,143.45)">
<g filter="url(#parula)">
<rect x="-5" y="-5" width="101.0" height="109.4" fill="#000"/>
<g filter="url(#bl)" fill="#fff">
<rect x="-5.0" y="44.5" width="101.0" height="15.0" opacity="0.100"/>
<rect x="-5.0" y="74.0" width="101.0" height="24.0" opacity="0.035"/>
</g>
<g filter="url(#bm)" fill="#fff">
<rect x="-5.0" y="-5.0" width="101.0" height="109.4" opacity="0.012"/>
<rect x="-5.0" y="51.9" width="101.0" height="5.0" opacity="0.090"/>
<rect x="-5.0" y="75.2" width="101.0" height="1.6" opacity="0.035"/>
</g>
<g filter="url(#bs)" fill="#fff">
<ellipse cx="1.7" cy="53.7" rx="1.0" ry="4.4" opacity="0.267"/>
<ellipse cx="1.0" cy="42.8" rx="0.8" ry="4.8" opacity="0.165"/>
<ellipse cx="6.8" cy="54.0" rx="1.0" ry="4.7" opacity="0.292"/>
<ellipse cx="6.3" cy="41.6" rx="0.8" ry="3.4" opacity="0.180"/>
<ellipse cx="11.4" cy="54.6" rx="1.0" ry="4.5" opacity="0.410"/>
<ellipse cx="11.1" cy="43.7" rx="0.8" ry="4.5" opacity="0.172"/>
<ellipse cx="15.9" cy="54.1" rx="1.0" ry="5.7" opacity="0.264"/>
<ellipse cx="15.9" cy="41.9" rx="0.8" ry="3.9" opacity="0.083"/>
<ellipse cx="20.4" cy="54.0" rx="1.0" ry="4.8" opacity="0.422"/>
<ellipse cx="21.1" cy="43.5" rx="0.8" ry="4.8" opacity="0.171"/>
<ellipse cx="24.4" cy="54.1" rx="1.0" ry="5.1" opacity="0.331"/>
<ellipse cx="23.8" cy="42.4" rx="0.8" ry="4.6" opacity="0.078"/>
<ellipse cx="28.3" cy="53.4" rx="1.0" ry="5.3" opacity="0.374"/>
<ellipse cx="28.2" cy="42.6" rx="0.8" ry="5.0" opacity="0.095"/>
<ellipse cx="33.2" cy="54.2" rx="1.0" ry="4.7" opacity="0.288"/>
<ellipse cx="32.9" cy="44.2" rx="0.8" ry="3.6" opacity="0.137"/>
<ellipse cx="38.2" cy="52.9" rx="1.0" ry="4.6" opacity="0.267"/>
<ellipse cx="38.7" cy="43.7" rx="0.8" ry="3.5" opacity="0.111"/>
<ellipse cx="41.8" cy="52.9" rx="1.0" ry="5.7" opacity="0.340"/>
<ellipse cx="42.5" cy="45.1" rx="0.8" ry="4.5" opacity="0.184"/>
<ellipse cx="46.1" cy="54.9" rx="1.0" ry="5.9" opacity="0.305"/>
<ellipse cx="45.9" cy="45.0" rx="0.8" ry="4.2" opacity="0.167"/>
<ellipse cx="50.9" cy="53.8" rx="1.0" ry="4.3" opacity="0.285"/>
<ellipse cx="50.7" cy="45.1" rx="0.8" ry="3.7" opacity="0.074"/>
<ellipse cx="55.1" cy="54.5" rx="1.0" ry="4.9" opacity="0.281"/>
<ellipse cx="54.7" cy="41.6" rx="0.8" ry="5.0" opacity="0.122"/>
<ellipse cx="59.7" cy="52.9" rx="1.0" ry="4.4" opacity="0.259"/>
<ellipse cx="60.0" cy="41.8" rx="0.8" ry="3.1" opacity="0.129"/>
<ellipse cx="64.2" cy="53.0" rx="1.0" ry="5.3" opacity="0.449"/>
<ellipse cx="64.7" cy="42.9" rx="0.8" ry="5.0" opacity="0.128"/>
<ellipse cx="68.7" cy="52.9" rx="1.0" ry="5.1" opacity="0.330"/>
<ellipse cx="68.3" cy="44.8" rx="0.8" ry="4.7" opacity="0.130"/>
<ellipse cx="72.9" cy="53.3" rx="1.0" ry="4.5" opacity="0.298"/>
<ellipse cx="72.5" cy="44.7" rx="0.8" ry="3.3" opacity="0.078"/>
<ellipse cx="78.5" cy="55.0" rx="1.0" ry="5.0" opacity="0.361"/>
<ellipse cx="79.1" cy="43.9" rx="0.8" ry="4.6" opacity="0.159"/>
<ellipse cx="82.4" cy="53.2" rx="1.0" ry="6.2" opacity="0.265"/>
<ellipse cx="83.0" cy="45.0" rx="0.8" ry="3.7" opacity="0.149"/>
<ellipse cx="87.2" cy="54.6" rx="1.0" ry="5.3" opacity="0.377"/>
<ellipse cx="87.5" cy="44.0" rx="0.8" ry="3.5" opacity="0.180"/>
<ellipse cx="91.9" cy="54.9" rx="1.0" ry="6.4" opacity="0.262"/>
<ellipse cx="92.2" cy="41.4" rx="0.8" ry="4.8" opacity="0.087"/>
<ellipse cx="6.5" cy="54.4" rx="1.1" ry="4.5" opacity="0.174"/>
<ellipse cx="11.0" cy="54.4" rx="1.1" ry="4.5" opacity="0.174"/>
<ellipse cx="47.1" cy="54.4" rx="1.1" ry="4.5" opacity="0.174"/>
<ellipse cx="62.3" cy="54.4" rx="1.1" ry="4.5" opacity="0.174"/>
<ellipse cx="15.6" cy="54.4" rx="1.1" ry="4.5" opacity="0.174"/>
<ellipse cx="24.8" cy="54.4" rx="1.1" ry="4.5" opacity="0.174"/>
<ellipse cx="41.0" cy="54.4" rx="1.1" ry="4.5" opacity="0.174"/>
<ellipse cx="52.2" cy="54.4" rx="1.1" ry="4.5" opacity="0.174"/>
<ellipse cx="68.4" cy="54.4" rx="1.1" ry="4.5" opacity="0.174"/>
<ellipse cx="74.5" cy="54.4" rx="1.1" ry="4.5" opacity="0.174"/>
<ellipse cx="87.7" cy="54.4" rx="1.1" ry="4.5" opacity="0.174"/>
<ellipse cx="29.8" cy="54.4" rx="1.1" ry="4.5" opacity="0.174"/>
<ellipse cx="2.9" cy="69.3" rx="0.8" ry="2.0" opacity="0.054"/>
<ellipse cx="5.3" cy="68.8" rx="1.1" ry="1.5" opacity="0.029"/>
<ellipse cx="8.9" cy="78.2" rx="0.7" ry="2.3" opacity="0.063"/>
<ellipse cx="11.8" cy="70.7" rx="0.9" ry="2.3" opacity="0.038"/>
<ellipse cx="14.2" cy="65.9" rx="1.0" ry="1.8" opacity="0.052"/>
<ellipse cx="15.2" cy="77.4" rx="0.7" ry="2.0" opacity="0.050"/>
<ellipse cx="20.8" cy="68.3" rx="0.9" ry="2.2" opacity="0.052"/>
<ellipse cx="21.3" cy="68.6" rx="1.1" ry="2.3" opacity="0.033"/>
<ellipse cx="25.9" cy="64.8" rx="0.8" ry="1.5" opacity="0.050"/>
<ellipse cx="30.2" cy="74.8" rx="0.7" ry="1.3" opacity="0.056"/>
<ellipse cx="33.0" cy="65.7" rx="1.1" ry="2.2" opacity="0.032"/>
<ellipse cx="36.0" cy="69.7" rx="0.8" ry="1.6" opacity="0.065"/>
<ellipse cx="37.7" cy="70.7" rx="1.1" ry="1.4" opacity="0.035"/>
<ellipse cx="40.9" cy="67.7" rx="0.8" ry="1.9" opacity="0.068"/>
<ellipse cx="44.6" cy="73.5" rx="0.9" ry="1.8" opacity="0.060"/>
<ellipse cx="47.0" cy="70.1" rx="0.7" ry="1.5" opacity="0.066"/>
<ellipse cx="49.6" cy="71.2" rx="1.0" ry="2.1" opacity="0.056"/>
<ellipse cx="52.5" cy="58.4" rx="1.1" ry="1.8" opacity="0.069"/>
<ellipse cx="55.5" cy="74.7" rx="1.0" ry="1.8" opacity="0.035"/>
<ellipse cx="60.0" cy="64.8" rx="0.9" ry="2.1" opacity="0.035"/>
<ellipse cx="60.9" cy="74.5" rx="0.8" ry="2.4" opacity="0.045"/>
<ellipse cx="65.4" cy="75.7" rx="0.9" ry="2.0" opacity="0.033"/>
<ellipse cx="68.0" cy="72.3" rx="1.0" ry="1.6" opacity="0.042"/>
<ellipse cx="69.8" cy="69.0" rx="0.7" ry="2.4" opacity="0.065"/>
<ellipse cx="75.2" cy="73.5" rx="0.8" ry="2.0" opacity="0.051"/>
<ellipse cx="77.6" cy="60.7" rx="1.1" ry="2.2" opacity="0.071"/>
<ellipse cx="79.2" cy="66.5" rx="1.0" ry="2.0" opacity="0.065"/>
<ellipse cx="82.8" cy="65.1" rx="1.1" ry="1.7" opacity="0.055"/>
<ellipse cx="87.7" cy="69.0" rx="0.8" ry="1.6" opacity="0.056"/>
<ellipse cx="91.0" cy="66.7" rx="1.1" ry="1.7" opacity="0.046"/>
</g>
<g filter="url(#bh)" fill="#fff">
<ellipse cx="4.6" cy="87.1" rx="4.1" ry="0.7" opacity="0.036"/>
<ellipse cx="9.6" cy="92.0" rx="7.1" ry="0.8" opacity="0.049"/>
<ellipse cx="14.9" cy="88.8" rx="8.9" ry="1.1" opacity="0.048"/>
<ellipse cx="20.5" cy="89.2" rx="5.6" ry="0.6" opacity="0.028"/>
<ellipse cx="24.0" cy="95.6" rx="7.9" ry="0.7" opacity="0.027"/>
<ellipse cx="30.1" cy="84.3" rx="8.7" ry="0.7" opacity="0.044"/>
<ellipse cx="38.0" cy="78.3" rx="5.3" ry="0.9" opacity="0.025"/>
<ellipse cx="40.4" cy="85.0" rx="4.2" ry="0.8" opacity="0.024"/>
<ellipse cx="45.8" cy="91.3" rx="8.5" ry="1.0" opacity="0.042"/>
<ellipse cx="54.9" cy="87.8" rx="8.8" ry="1.0" opacity="0.042"/>
<ellipse cx="60.1" cy="85.8" rx="6.8" ry="0.9" opacity="0.025"/>
<ellipse cx="67.4" cy="82.0" rx="6.4" ry="0.6" opacity="0.025"/>
<ellipse cx="73.2" cy="87.8" rx="7.4" ry="1.0" opacity="0.030"/>
<ellipse cx="76.1" cy="92.0" rx="6.1" ry="0.6" opacity="0.046"/>
<ellipse cx="79.7" cy="90.2" rx="4.8" ry="1.0" opacity="0.045"/>
<ellipse cx="86.6" cy="87.4" rx="6.8" ry="0.8" opacity="0.042"/>
<rect x="-5.0" y="93.4" width="101.0" height="1.2" opacity="0.050"/>
<rect x="-5.0" y="97.9" width="101.0" height="1.0" opacity="0.100"/>
</g>
<g filter="url(#bd)" fill="#fff">
<ellipse cx="6.5" cy="54.6" rx="0.9" ry="2.4" opacity="0.700"/>
<ellipse cx="11.0" cy="54.6" rx="0.9" ry="2.4" opacity="0.750"/>
<ellipse cx="47.1" cy="54.6" rx="0.9" ry="2.4" opacity="0.650"/>
<ellipse cx="62.3" cy="54.6" rx="0.9" ry="2.4" opacity="0.600"/>
<ellipse cx="15.6" cy="54.6" rx="0.9" ry="2.4" opacity="0.250"/>
<ellipse cx="24.8" cy="54.6" rx="0.9" ry="2.4" opacity="0.250"/>
<ellipse cx="41.0" cy="54.6" rx="0.9" ry="2.4" opacity="0.250"/>
<ellipse cx="52.2" cy="54.6" rx="0.9" ry="2.4" opacity="0.300"/>
<ellipse cx="68.4" cy="54.6" rx="0.9" ry="2.4" opacity="0.250"/>
<ellipse cx="74.5" cy="54.6" rx="0.9" ry="2.4" opacity="0.250"/>
<ellipse cx="87.7" cy="54.6" rx="0.9" ry="2.4" opacity="0.300"/>
<ellipse cx="29.8" cy="54.6" rx="0.9" ry="2.4" opacity="0.200"/>
<ellipse cx="10.0" cy="98.4" rx="12.0" ry="0.6" opacity="0.280"/>
</g>
</g>
<g filter="url(#tb)" stroke="#222" stroke-width="0.08">
<rect x="95.8" y="0.2" width="8.9" height="97.7" fill="url(#cb)" stroke="#333" stroke-width="0.4"/>
<line x1="103.5" x2="104.7" y1="6.90" y2="6.90" stroke="#333" stroke-width="0.4"/>
<text x="107.2" y="9.20" font-size="7" fill="#222">3</text>
<line x1="103.5" x2="104.7" y1="22.00" y2="22.00" stroke="#333" stroke-width="0.4"/>
<text x="107.2" y="24.30" font-size="7" fill="#222">2.5</text>
<line x1="103.5" x2="104.7" y1="37.10" y2="37.10" stroke="#333" stroke-width="0.4"/>
<text x="107.2" y="39.40" font-size="7" fill="#222">2</text>
<line x1="103.5" x2="104.7" y1="52.20" y2="52.20" stroke="#333" stroke-width="0.4"/>
<text x="107.2" y="54.50" font-size="7" fill="#222">1.5</text>
<line x1="103.5" x2="104.7" y1="67.30" y2="67.30" stroke="#333" stroke-width="0.4"/>
<text x="107.2" y="69.60" font-size="7" fill="#222">1</text>
<line x1="103.5" x2="104.7" y1="82.40" y2="82.40" stroke="#333" stroke-width="0.4"/>
<text x="107.2" y="84.70" font-size="7" fill="#222">0.5</text>
<text x="-2.6" y="85.53" font-size="7" text-anchor="end" fill="#222">1000</text>
<text x="-2.6" y="68.97" font-size="7" text-anchor="end" fill="#222">2000</text>
<text x="-2.6" y="52.40" font-size="7" text-anchor="end" fill="#222">3000</text>
<text x="-2.6" y="35.83" font-size="7" text-anchor="end" fill="#222">4000</text>
<text x="-2.6" y="19.27" font-size="7" text-anchor="end" fill="#222">5000</text>
<text x="-2.6" y="3.30" font-size="7" text-anchor="end" fill="#222">6000</text>
<text x="0.00" y="109.4" font-size="7" text-anchor="middle" fill="#222">0</text>
<text x="27.00" y="109.4" font-size="7" text-anchor="middle" fill="#222">0.05</text>
<text x="54.00" y="109.4" font-size="7" text-anchor="middle" fill="#222">0.1</text>
<text x="81.00" y="109.4" font-size="7" text-anchor="middle" fill="#222">0.15</text>
<text x="45.4" y="117.6" font-size="7" text-anchor="middle" fill="#222">Time/s</text>
<text transform="translate(-20.6,49.7) rotate(-90)" font-size="7.1" text-anchor="middle" fill="#222">Frequency/Hz</text>
<text x="-7.10" y="128.7" font-size="9.2" fill="#111" stroke-width="0.25">(d) Wavelet scalogram of class 4</text>
</g>
</g>
<g transform="translate(190.60,143.45)">
<g filter="url(#parula)">
<rect x="-5" y="-5" width="101.0" height="109.4" fill="#000"/>
<g filter="url(#bl)" fill="#fff">
<rect x="-5.0" y="15.0" width="101.0" height="50.0" opacity="0.050"/>
<rect x="-5.0" y="38.0" width="101.0" height="22.0" opacity="0.090"/>
<rect x="-5.0" y="69.0" width="101.0" height="30.0" opacity="0.060"/>
</g>
<g filter="url(#bm)" fill="#fff">
<rect x="-5.0" y="-5.0" width="101.0" height="109.4" opacity="0.012"/>
<rect x="-5.0" y="42.8" width="101.0" height="7.0" opacity="0.060"/>
<ellipse cx="1.4" cy="46.3" rx="2.6" ry="3.6" opacity="0.250"/>
<ellipse cx="31.9" cy="53.4" rx="2.6" ry="3.6" opacity="0.250"/>
<ellipse cx="53.2" cy="45.9" rx="2.6" ry="3.6" opacity="0.250"/>
<ellipse cx="79.6" cy="44.7" rx="2.6" ry="3.6" opacity="0.250"/>
<rect x="-5.0" y="74.7" width="101.0" height="2.2" opacity="0.210"/>
<rect x="-5.0" y="87.3" width="101.0" height="1.8" opacity="0.130"/>
<ellipse cx="33.9" cy="88.2" rx="6.0" ry="1.0" opacity="0.200"/>
<ellipse cx="73.5" cy="88.2" rx="6.0" ry="1.0" opacity="0.200"/>
<ellipse cx="10.6" cy="88.2" rx="6.0" ry="1.0" opacity="0.080"/>
<ellipse cx="53.2" cy="88.2" rx="6.0" ry="1.0" opacity="0.100"/>
<rect x="-5.0" y="92.4" width="101.0" height="1.6" opacity="0.100"/>
</g>
<g filter="url(#bs)" fill="#fff">
<ellipse cx="1.4" cy="27.5" rx="1.3" ry="7.7" opacity="0.090"/>
<ellipse cx="2.3" cy="19.1" rx="1.1" ry="8.7" opacity="0.074"/>
<ellipse cx="6.6" cy="32.3" rx="0.9" ry="6.7" opacity="0.070"/>
<ellipse cx="6.9" cy="31.7" rx="0.9" ry="5.4" opacity="0.089"/>
<ellipse cx="10.8" cy="32.8" rx="0.9" ry="7.1" opacity="0.044"/>
<ellipse cx="11.4" cy="35.5" rx="1.3" ry="5.0" opacity="0.049"/>
<ellipse cx="15.9" cy="30.9" rx="1.4" ry="6.7" opacity="0.076"/>
<ellipse cx="16.4" cy="25.0" rx="1.3" ry="7.5" opacity="0.092"/>
<ellipse cx="20.2" cy="26.6" rx="0.9" ry="4.7" opacity="0.040"/>
<ellipse cx="21.2" cy="32.5" rx="1.2" ry="4.0" opacity="0.076"/>
<ellipse cx="23.5" cy="24.6" rx="1.1" ry="5.6" opacity="0.064"/>
<ellipse cx="26.6" cy="36.6" rx="0.8" ry="8.9" opacity="0.038"/>
<ellipse cx="29.0" cy="28.5" rx="1.3" ry="5.8" opacity="0.070"/>
<ellipse cx="29.6" cy="27.2" rx="0.8" ry="4.9" opacity="0.092"/>
<ellipse cx="32.3" cy="28.4" rx="1.3" ry="5.7" opacity="0.057"/>
<ellipse cx="35.3" cy="16.5" rx="1.3" ry="4.5" opacity="0.080"/>
<ellipse cx="38.2" cy="28.9" rx="1.3" ry="4.5" opacity="0.056"/>
<ellipse cx="40.1" cy="27.0" rx="1.3" ry="5.7" opacity="0.090"/>
<ellipse cx="42.2" cy="26.3" rx="0.9" ry="4.4" opacity="0.045"/>
<ellipse cx="44.8" cy="32.0" rx="1.4" ry="4.8" opacity="0.039"/>
<ellipse cx="47.7" cy="23.0" rx="0.9" ry="7.0" opacity="0.084"/>
<ellipse cx="48.8" cy="26.9" rx="1.0" ry="4.3" opacity="0.089"/>
<ellipse cx="50.1" cy="18.5" rx="0.9" ry="7.7" opacity="0.091"/>
<ellipse cx="53.8" cy="28.4" rx="1.3" ry="4.5" opacity="0.061"/>
<ellipse cx="54.9" cy="30.4" rx="1.1" ry="9.0" opacity="0.086"/>
<ellipse cx="59.1" cy="24.5" rx="1.1" ry="6.4" opacity="0.079"/>
<ellipse cx="60.2" cy="26.7" rx="0.9" ry="5.9" opacity="0.094"/>
<ellipse cx="63.6" cy="32.9" rx="1.2" ry="6.5" opacity="0.056"/>
<ellipse cx="63.9" cy="26.8" rx="1.3" ry="5.8" opacity="0.082"/>
<ellipse cx="67.7" cy="36.7" rx="1.2" ry="7.3" opacity="0.080"/>
<ellipse cx="69.1" cy="26.9" rx="1.1" ry="7.8" opacity="0.076"/>
<ellipse cx="71.2" cy="24.1" rx="1.3" ry="7.2" opacity="0.070"/>
<ellipse cx="72.8" cy="24.4" rx="1.2" ry="6.3" opacity="0.084"/>
<ellipse cx="76.5" cy="26.9" rx="1.3" ry="5.7" opacity="0.074"/>
<ellipse cx="79.0" cy="30.2" rx="1.3" ry="8.3" opacity="0.076"/>
<ellipse cx="81.8" cy="23.9" rx="1.4" ry="6.6" opacity="0.067"/>
<ellipse cx="82.3" cy="34.1" rx="1.1" ry="7.5" opacity="0.078"/>
<ellipse cx="85.8" cy="17.9" rx="0.9" ry="7.9" opacity="0.070"/>
<ellipse cx="88.0" cy="21.9" rx="1.3" ry="7.2" opacity="0.078"/>
<ellipse cx="88.8" cy="31.3" rx="0.9" ry="6.2" opacity="0.074"/>
<ellipse cx="0.5" cy="44.7" rx="0.7" ry="3.3" opacity="0.293"/>
<ellipse cx="2.3" cy="43.0" rx="0.8" ry="2.9" opacity="0.278"/>
<ellipse cx="4.8" cy="48.3" rx="0.9" ry="3.6" opacity="0.414"/>
<ellipse cx="7.0" cy="46.4" rx="1.1" ry="2.2" opacity="0.353"/>
<ellipse cx="9.3" cy="45.0" rx="1.1" ry="3.1" opacity="0.230"/>
<ellipse cx="12.2" cy="46.5" rx="0.7" ry="3.5" opacity="0.331"/>
<ellipse cx="14.3" cy="49.8" rx="0.9" ry="4.1" opacity="0.432"/>
<ellipse cx="16.0" cy="44.8" rx="0.8" ry="3.6" opacity="0.406"/>
<ellipse cx="19.4" cy="48.8" rx="0.9" ry="4.3" opacity="0.218"/>
<ellipse cx="19.7" cy="45.3" rx="1.0" ry="3.6" opacity="0.264"/>
<ellipse cx="23.0" cy="47.5" rx="0.9" ry="2.7" opacity="0.315"/>
<ellipse cx="25.9" cy="44.5" rx="0.9" ry="4.4" opacity="0.522"/>
<ellipse cx="27.3" cy="45.5" rx="0.9" ry="3.2" opacity="0.324"/>
<ellipse cx="30.3" cy="52.1" rx="0.9" ry="2.9" opacity="0.377"/>
<ellipse cx="30.6" cy="44.2" rx="0.8" ry="4.0" opacity="0.493"/>
<ellipse cx="32.5" cy="44.2" rx="0.9" ry="2.8" opacity="0.529"/>
<ellipse cx="36.4" cy="45.9" rx="0.8" ry="4.5" opacity="0.315"/>
<ellipse cx="38.2" cy="47.6" rx="0.9" ry="3.7" opacity="0.419"/>
<ellipse cx="40.6" cy="48.6" rx="0.8" ry="3.4" opacity="0.330"/>
<ellipse cx="41.8" cy="48.4" rx="0.9" ry="3.3" opacity="0.338"/>
<ellipse cx="44.9" cy="45.4" rx="0.8" ry="3.2" opacity="0.523"/>
<ellipse cx="47.4" cy="45.5" rx="0.9" ry="2.2" opacity="0.477"/>
<ellipse cx="48.6" cy="42.8" rx="1.0" ry="3.3" opacity="0.522"/>
<ellipse cx="50.7" cy="44.3" rx="0.9" ry="4.2" opacity="0.283"/>
<ellipse cx="52.6" cy="46.3" rx="1.1" ry="3.8" opacity="0.362"/>
<ellipse cx="54.8" cy="45.2" rx="1.0" ry="4.3" opacity="0.265"/>
<ellipse cx="57.4" cy="43.4" rx="0.8" ry="2.6" opacity="0.413"/>
<ellipse cx="60.3" cy="45.1" rx="0.7" ry="2.7" opacity="0.491"/>
<ellipse cx="62.4" cy="45.6" rx="1.0" ry="4.5" opacity="0.550"/>
<ellipse cx="64.4" cy="45.4" rx="0.7" ry="4.1" opacity="0.291"/>
<ellipse cx="66.4" cy="49.2" rx="0.8" ry="2.9" opacity="0.524"/>
<ellipse cx="67.5" cy="44.8" rx="1.0" ry="3.2" opacity="0.271"/>
<ellipse cx="70.7" cy="46.9" rx="0.9" ry="2.4" opacity="0.237"/>
<ellipse cx="72.7" cy="46.2" rx="1.0" ry="4.2" opacity="0.262"/>
<ellipse cx="74.6" cy="44.7" rx="0.9" ry="4.4" opacity="0.342"/>
<ellipse cx="76.0" cy="48.6" rx="1.0" ry="2.5" opacity="0.428"/>
<ellipse cx="79.1" cy="48.2" rx="1.0" ry="2.8" opacity="0.401"/>
<ellipse cx="80.7" cy="44.4" rx="1.0" ry="3.4" opacity="0.262"/>
<ellipse cx="82.8" cy="43.4" rx="0.8" ry="3.8" opacity="0.436"/>
<ellipse cx="84.7" cy="48.5" rx="1.0" ry="2.4" opacity="0.259"/>
<ellipse cx="88.0" cy="46.2" rx="0.9" ry="2.9" opacity="0.483"/>
<ellipse cx="88.9" cy="50.4" rx="1.0" ry="2.3" opacity="0.268"/>
<ellipse cx="2.4" cy="54.7" rx="0.7" ry="3.9" opacity="0.348"/>
<ellipse cx="4.6" cy="53.8" rx="0.8" ry="3.2" opacity="0.253"/>
<ellipse cx="5.6" cy="53.7" rx="0.9" ry="2.8" opacity="0.187"/>
<ellipse cx="9.7" cy="58.4" rx="1.0" ry="3.6" opacity="0.277"/>
<ellipse cx="12.3" cy="52.1" rx="1.0" ry="3.5" opacity="0.265"/>
<ellipse cx="12.9" cy="55.0" rx="0.7" ry="2.4" opacity="0.157"/>
<ellipse cx="17.4" cy="51.2" rx="0.7" ry="2.9" opacity="0.416"/>
<ellipse cx="19.3" cy="55.9" rx="0.9" ry="2.9" opacity="0.175"/>
<ellipse cx="20.6" cy="56.7" rx="0.9" ry="3.8" opacity="0.191"/>
<ellipse cx="23.4" cy="57.4" rx="0.8" ry="2.3" opacity="0.232"/>
<ellipse cx="25.9" cy="54.8" rx="1.1" ry="2.7" opacity="0.431"/>
<ellipse cx="29.5" cy="55.5" rx="1.0" ry="2.9" opacity="0.433"/>
<ellipse cx="30.6" cy="54.4" rx="1.0" ry="3.5" opacity="0.195"/>
<ellipse cx="33.4" cy="53.6" rx="0.7" ry="2.5" opacity="0.169"/>
<ellipse cx="36.4" cy="57.8" rx="0.8" ry="2.9" opacity="0.231"/>
<ellipse cx="39.8" cy="55.0" rx="1.0" ry="2.3" opacity="0.218"/>
<ellipse cx="42.1" cy="58.8" rx="0.9" ry="4.0" opacity="0.147"/>
<ellipse cx="43.1" cy="54.1" rx="1.0" ry="2.8" opacity="0.159"/>
<ellipse cx="46.9" cy="58.4" rx="0.9" ry="2.2" opacity="0.167"/>
<ellipse cx="50.3" cy="55.2" rx="0.9" ry="3.9" opacity="0.161"/>
<ellipse cx="51.2" cy="57.8" rx="0.7" ry="2.5" opacity="0.269"/>
<ellipse cx="53.9" cy="56.2" rx="0.7" ry="2.1" opacity="0.441"/>
<ellipse cx="56.1" cy="52.9" rx="0.9" ry="2.2" opacity="0.241"/>
<ellipse cx="58.4" cy="55.3" rx="0.9" ry="3.8" opacity="0.327"/>
<ellipse cx="62.8" cy="55.5" rx="0.9" ry="3.0" opacity="0.319"/>
<ellipse cx="64.1" cy="55.9" rx="1.0" ry="3.5" opacity="0.423"/>
<ellipse cx="66.5" cy="51.0" rx="0.8" ry="2.2" opacity="0.240"/>
<ellipse cx="68.5" cy="56.9" rx="1.0" ry="3.6" opacity="0.240"/>
<ellipse cx="71.1" cy="57.0" rx="0.7" ry="2.9" opacity="0.321"/>
<ellipse cx="73.9" cy="56.3" rx="0.7" ry="3.4" opacity="0.160"/>
<ellipse cx="76.3" cy="54.9" rx="0.7" ry="2.8" opacity="0.241"/>
<ellipse cx="80.3" cy="57.8" rx="0.9" ry="3.8" opacity="0.344"/>
<ellipse cx="82.8" cy="53.0" rx="1.1" ry="3.3" opacity="0.436"/>
<ellipse cx="85.3" cy="54.2" rx="1.0" ry="2.5" opacity="0.392"/>
<ellipse cx="86.9" cy="56.0" rx="0.8" ry="2.5" opacity="0.351"/>
<ellipse cx="89.2" cy="56.1" rx="0.7" ry="3.5" opacity="0.315"/>
</g>
<g filter="url(#bh)" fill="#fff">
<ellipse cx="0.2" cy="83.8" rx="5.8" ry="1.1" opacity="0.077"/>
<ellipse cx="9.2" cy="82.9" rx="5.2" ry="0.9" opacity="0.048"/>
<ellipse cx="13.3" cy="85.8" rx="8.1" ry="1.0" opacity="0.035"/>
<ellipse cx="20.1" cy="82.8" rx="4.9" ry="1.0" opacity="0.052"/>
<ellipse cx="28.1" cy="82.8" rx="5.6" ry="1.1" opacity="0.053"/>
<ellipse cx="30.9" cy="81.3" rx="6.2" ry="1.1" opacity="0.077"/>
<ellipse cx="37.2" cy="85.8" rx="4.5" ry="1.1" opacity="0.051"/>
<ellipse cx="40.1" cy="81.9" rx="8.9" ry="0.6" opacity="0.059"/>
<ellipse cx="48.2" cy="84.3" rx="5.1" ry="0.8" opacity="0.040"/>
<ellipse cx="54.4" cy="80.8" rx="5.8" ry="1.1" opacity="0.042"/>
<ellipse cx="58.9" cy="82.6" rx="8.2" ry="1.1" opacity="0.061"/>
<ellipse cx="64.8" cy="89.6" rx="4.7" ry="1.1" opacity="0.055"/>
<ellipse cx="68.5" cy="83.1" rx="7.6" ry="1.1" opacity="0.040"/>
<ellipse cx="78.5" cy="83.5" rx="5.6" ry="1.0" opacity="0.073"/>
<ellipse cx="83.2" cy="83.3" rx="4.1" ry="0.9" opacity="0.059"/>
<ellipse cx="86.4" cy="80.2" rx="5.9" ry="0.8" opacity="0.031"/>
<rect x="-5.0" y="97.7" width="101.0" height="1.2" opacity="0.340"/>
</g>
<g filter="url(#bd)" fill="#fff">
<ellipse cx="1.4" cy="46.3" rx="1.4" ry="2.7" opacity="0.900"/>
<ellipse cx="31.9" cy="53.4" rx="1.4" ry="2.7" opacity="0.850"/>
<ellipse cx="53.2" cy="45.9" rx="1.4" ry="2.7" opacity="0.900"/>
<ellipse cx="79.6" cy="44.7" rx="1.4" ry="2.7" opacity="0.700"/>
<ellipse cx="34.9" cy="46.3" rx="0.9" ry="2.2" opacity="0.450"/>
<ellipse cx="68.4" cy="56.4" rx="0.9" ry="2.2" opacity="0.500"/>
<ellipse cx="4.5" cy="52.4" rx="0.9" ry="2.2" opacity="0.400"/>
<ellipse cx="39.0" cy="46.3" rx="0.9" ry="2.2" opacity="0.350"/>
<ellipse cx="24.8" cy="55.4" rx="0.9" ry="2.2" opacity="0.300"/>
<ellipse cx="87.7" cy="45.3" rx="0.9" ry="2.2" opacity="0.300"/>
<ellipse cx="83.6" cy="56.4" rx="0.9" ry="2.2" opacity="0.300"/>
</g>
</g>
<g filter="url(#tb)" stroke="#222" stroke-width="0.08">
<rect x="95.8" y="0.2" width="8.9" height="97.7" fill="url(#cb)" stroke="#333" stroke-width="0.4"/>
<line x1="103.5" x2="104.7" y1="9.60" y2="9.60" stroke="#333" stroke-width="0.4"/>
<text x="107.2" y="11.90" font-size="7" fill="#222">0.4</text>
<line x1="103.5" x2="104.7" y1="31.70" y2="31.70" stroke="#333" stroke-width="0.4"/>
<text x="107.2" y="34.00" font-size="7" fill="#222">0.3</text>
<line x1="103.5" x2="104.7" y1="53.80" y2="53.80" stroke="#333" stroke-width="0.4"/>
<text x="107.2" y="56.10" font-size="7" fill="#222">0.2</text>
<line x1="103.5" x2="104.7" y1="75.90" y2="75.90" stroke="#333" stroke-width="0.4"/>
<text x="107.2" y="78.20" font-size="7" fill="#222">0.1</text>
<text x="-2.6" y="85.53" font-size="7" text-anchor="end" fill="#222">1000</text>
<text x="-2.6" y="68.97" font-size="7" text-anchor="end" fill="#222">2000</text>
<text x="-2.6" y="52.40" font-size="7" text-anchor="end" fill="#222">3000</text>
<text x="-2.6" y="35.83" font-size="7" text-anchor="end" fill="#222">4000</text>
<text x="-2.6" y="19.27" font-size="7" text-anchor="end" fill="#222">5000</text>
<text x="-2.6" y="3.30" font-size="7" text-anchor="end" fill="#222">6000</text>
<text x="0.00" y="109.4" font-size="7" text-anchor="middle" fill="#222">0</text>
<text x="27.00" y="109.4" font-size="7" text-anchor="middle" fill="#222">0.05</text>
<text x="54.00" y="109.4" font-size="7" text-anchor="middle" fill="#222">0.1</text>
<text x="81.00" y="109.4" font-size="7" text-anchor="middle" fill="#222">0.15</text>
<text x="45.4" y="117.6" font-size="7" text-anchor="middle" fill="#222">Time/s</text>
<text transform="translate(-20.6,49.7) rotate(-90)" font-size="7.1" text-anchor="middle" fill="#222">Frequency/Hz</text>
<text x="-6.60" y="128.7" font-size="9.2" fill="#111" stroke-width="0.25">(e) Wavelet scalogram of class 5</text>
</g>
</g>
<g transform="translate(351.70,143.45)">
<g filter="url(#parula)">
<rect x="-5" y="-5" width="101.0" height="109.4" fill="#000"/>
<g filter="url(#bl)" fill="#fff">
<rect x="-5.0" y="33.0" width="101.0" height="26.0" opacity="0.060"/>
<rect x="-5.0" y="79.0" width="101.0" height="18.0" opacity="0.020"/>
</g>
<g filter="url(#bm)" fill="#fff">
<rect x="-5.0" y="-5.0" width="101.0" height="109.4" opacity="0.012"/>
</g>
<g filter="url(#bs)" fill="#fff">
<ellipse cx="1.6" cy="47.5" rx="0.7" ry="3.0" opacity="0.144"/>
<ellipse cx="3.0" cy="39.8" rx="0.9" ry="4.5" opacity="0.159"/>
<ellipse cx="4.7" cy="47.6" rx="0.8" ry="5.2" opacity="0.147"/>
<ellipse cx="6.6" cy="37.3" rx="0.8" ry="6.2" opacity="0.093"/>
<ellipse cx="9.9" cy="41.2" rx="0.7" ry="3.4" opacity="0.162"/>
<ellipse cx="12.0" cy="36.1" rx="0.8" ry="3.4" opacity="0.084"/>
<ellipse cx="13.7" cy="41.9" rx="0.8" ry="3.8" opacity="0.144"/>
<ellipse cx="15.2" cy="56.9" rx="1.0" ry="6.6" opacity="0.125"/>
<ellipse cx="17.9" cy="42.1" rx="1.0" ry="3.1" opacity="0.105"/>
<ellipse cx="19.9" cy="36.4" rx="0.7" ry="5.4" opacity="0.070"/>
<ellipse cx="22.5" cy="42.5" rx="0.9" ry="4.2" opacity="0.084"/>
<ellipse cx="23.8" cy="44.6" rx="0.6" ry="3.8" opacity="0.171"/>
<ellipse cx="26.3" cy="53.6" rx="0.6" ry="4.3" opacity="0.176"/>
<ellipse cx="28.2" cy="45.7" rx="0.7" ry="4.5" opacity="0.109"/>
<ellipse cx="29.2" cy="46.7" rx="0.8" ry="6.0" opacity="0.110"/>
<ellipse cx="33.1" cy="45.0" rx="0.7" ry="6.9" opacity="0.174"/>
<ellipse cx="34.5" cy="49.2" rx="1.0" ry="6.2" opacity="0.125"/>
<ellipse cx="36.1" cy="41.5" rx="0.9" ry="4.6" opacity="0.069"/>
<ellipse cx="38.8" cy="44.4" rx="0.9" ry="3.7" opacity="0.061"/>
<ellipse cx="39.6" cy="50.8" rx="0.8" ry="4.4" opacity="0.091"/>
<ellipse cx="42.3" cy="48.4" rx="0.8" ry="6.5" opacity="0.138"/>
<ellipse cx="44.0" cy="43.3" rx="0.8" ry="4.9" opacity="0.077"/>
<ellipse cx="46.3" cy="41.9" rx="0.7" ry="5.6" opacity="0.185"/>
<ellipse cx="49.5" cy="53.5" rx="0.7" ry="5.4" opacity="0.100"/>
<ellipse cx="50.5" cy="36.1" rx="1.0" ry="4.2" opacity="0.059"/>
<ellipse cx="52.6" cy="45.7" rx="0.6" ry="3.1" opacity="0.159"/>
<ellipse cx="54.0" cy="44.1" rx="1.0" ry="6.4" opacity="0.066"/>
<ellipse cx="56.2" cy="40.4" rx="1.0" ry="5.5" opacity="0.113"/>
<ellipse cx="59.5" cy="47.3" rx="0.8" ry="3.4" opacity="0.105"/>
<ellipse cx="60.3" cy="39.6" rx="0.9" ry="5.4" opacity="0.077"/>
<ellipse cx="63.3" cy="46.9" rx="0.9" ry="4.9" opacity="0.175"/>
<ellipse cx="65.4" cy="46.4" rx="0.9" ry="3.5" opacity="0.167"/>
<ellipse cx="66.4" cy="36.9" rx="1.0" ry="6.6" opacity="0.117"/>
<ellipse cx="69.7" cy="37.6" rx="0.9" ry="3.5" opacity="0.181"/>
<ellipse cx="72.2" cy="36.9" rx="0.8" ry="4.1" opacity="0.151"/>
<ellipse cx="72.5" cy="48.2" rx="0.9" ry="6.9" opacity="0.095"/>
<ellipse cx="76.4" cy="53.5" rx="0.7" ry="6.9" opacity="0.114"/>
<ellipse cx="78.4" cy="50.0" rx="0.6" ry="3.3" opacity="0.165"/>
<ellipse cx="79.9" cy="43.7" rx="0.7" ry="4.5" opacity="0.065"/>
<ellipse cx="82.7" cy="44.7" rx="0.9" ry="6.8" opacity="0.149"/>
<ellipse cx="83.4" cy="52.2" rx="0.6" ry="5.2" opacity="0.119"/>
<ellipse cx="85.8" cy="48.8" rx="0.6" ry="3.3" opacity="0.126"/>
<ellipse cx="86.9" cy="42.2" rx="0.7" ry="3.6" opacity="0.132"/>
<ellipse cx="89.7" cy="44.5" rx="0.7" ry="3.9" opacity="0.132"/>
<ellipse cx="23.1" cy="26.0" rx="0.7" ry="16.0" opacity="0.203"/>
<ellipse cx="23.1" cy="46.3" rx="1.1" ry="9.0" opacity="0.507"/>
<ellipse cx="60.3" cy="26.0" rx="0.7" ry="16.0" opacity="0.203"/>
<ellipse cx="60.3" cy="46.3" rx="1.1" ry="9.0" opacity="0.507"/>
<ellipse cx="6.1" cy="46.3" rx="0.8" ry="7.0" opacity="0.435"/>
<ellipse cx="29.8" cy="41.2" rx="0.8" ry="4.0" opacity="0.435"/>
<ellipse cx="76.5" cy="44.2" rx="0.8" ry="8.0" opacity="0.464"/>
<ellipse cx="90.7" cy="41.2" rx="0.8" ry="5.0" opacity="0.435"/>
<ellipse cx="76.5" cy="55.4" rx="0.8" ry="3.0" opacity="0.362"/>
<ellipse cx="6.1" cy="55.4" rx="0.8" ry="3.0" opacity="0.290"/>
<ellipse cx="47.1" cy="41.2" rx="0.8" ry="3.0" opacity="0.217"/>
<ellipse cx="73.5" cy="41.2" rx="0.8" ry="3.0" opacity="0.290"/>
</g>
<g filter="url(#bh)" fill="#fff">
<ellipse cx="4.1" cy="81.4" rx="4.3" ry="0.7" opacity="0.037"/>
<ellipse cx="8.1" cy="85.5" rx="5.3" ry="0.7" opacity="0.030"/>
<ellipse cx="10.8" cy="79.3" rx="7.0" ry="0.9" opacity="0.040"/>
<ellipse cx="16.9" cy="85.8" rx="5.6" ry="1.1" opacity="0.031"/>
<ellipse cx="21.2" cy="86.9" rx="5.5" ry="0.8" opacity="0.022"/>
<ellipse cx="22.9" cy="83.5" rx="6.0" ry="0.7" opacity="0.041"/>
<ellipse cx="27.8" cy="83.1" rx="5.2" ry="1.1" opacity="0.027"/>
<ellipse cx="34.4" cy="84.9" rx="6.7" ry="0.8" opacity="0.034"/>
<ellipse cx="39.7" cy="86.0" rx="5.6" ry="0.7" opacity="0.023"/>
<ellipse cx="45.4" cy="81.7" rx="3.2" ry="1.2" opacity="0.043"/>
<ellipse cx="48.6" cy="83.1" rx="4.1" ry="0.9" opacity="0.026"/>
<ellipse cx="54.0" cy="76.8" rx="6.1" ry="1.1" opacity="0.026"/>
<ellipse cx="57.3" cy="83.7" rx="6.0" ry="1.2" opacity="0.041"/>
<ellipse cx="62.3" cy="92.8" rx="6.1" ry="0.7" opacity="0.038"/>
<ellipse cx="63.8" cy="82.3" rx="6.8" ry="0.6" opacity="0.048"/>
<ellipse cx="72.6" cy="85.8" rx="4.7" ry="1.1" opacity="0.022"/>
<ellipse cx="73.4" cy="85.9" rx="3.0" ry="1.1" opacity="0.023"/>
<ellipse cx="80.0" cy="84.1" rx="4.1" ry="0.7" opacity="0.033"/>
<ellipse cx="82.7" cy="88.9" rx="5.4" ry="0.9" opacity="0.039"/>
<ellipse cx="88.6" cy="83.3" rx="4.1" ry="0.7" opacity="0.047"/>
<rect x="-5.0" y="74.9" width="101.0" height="1.4" opacity="0.040"/>
<rect x="-5.0" y="97.9" width="101.0" height="1.0" opacity="0.160"/>
</g>
<g filter="url(#bd)" fill="#fff">
<ellipse cx="23.3" cy="55.0" rx="1.1" ry="3.4" opacity="0.850"/>
<ellipse cx="23.1" cy="39.8" rx="0.9" ry="3.2" opacity="0.300"/>
<ellipse cx="60.5" cy="55.0" rx="1.1" ry="3.4" opacity="0.850"/>
<ellipse cx="60.3" cy="39.8" rx="0.9" ry="3.2" opacity="0.300"/>
</g>
</g>
<g filter="url(#tb)" stroke="#222" stroke-width="0.08">
<rect x="95.8" y="0.2" width="8.9" height="97.7" fill="url(#cb)" stroke="#333" stroke-width="0.4"/>
<line x1="103.5" x2="104.7" y1="9.20" y2="9.20" stroke="#333" stroke-width="0.4"/>
<text x="107.2" y="11.50" font-size="7" fill="#222">1</text>
<line x1="103.5" x2="104.7" y1="27.10" y2="27.10" stroke="#333" stroke-width="0.4"/>
<text x="107.2" y="29.40" font-size="7" fill="#222">0.8</text>
<line x1="103.5" x2="104.7" y1="45.00" y2="45.00" stroke="#333" stroke-width="0.4"/>
<text x="107.2" y="47.30" font-size="7" fill="#222">0.6</text>
<line x1="103.5" x2="104.7" y1="62.90" y2="62.90" stroke="#333" stroke-width="0.4"/>
<text x="107.2" y="65.20" font-size="7" fill="#222">0.4</text>
<line x1="103.5" x2="104.7" y1="80.80" y2="80.80" stroke="#333" stroke-width="0.4"/>
<text x="107.2" y="83.10" font-size="7" fill="#222">0.2</text>
<text x="-2.6" y="85.53" font-size="7" text-anchor="end" fill="#222">1000</text>
<text x="-2.6" y="68.97" font-size="7" text-anchor="end" fill="#222">2000</text>
<text x="-2.6" y="52.40" font-size="7" text-anchor="end" fill="#222">3000</text>
<text x="-2.6" y="35.83" font-size="7" text-anchor="end" fill="#222">4000</text>
<text x="-2.6" y="19.27" font-size="7" text-anchor="end" fill="#222">5000</text>
<text x="-2.6" y="3.30" font-size="7" text-anchor="end" fill="#222">6000</text>
<text x="0.00" y="109.4" font-size="7" text-anchor="middle" fill="#222">0</text>
<text x="27.00" y="109.4" font-size="7" text-anchor="middle" fill="#222">0.05</text>
<text x="54.00" y="109.4" font-size="7" text-anchor="middle" fill="#222">0.1</text>
<text x="81.00" y="109.4" font-size="7" text-anchor="middle" fill="#222">0.15</text>
<text x="45.4" y="117.6" font-size="7" text-anchor="middle" fill="#222">Time/s</text>
<text transform="translate(-20.6,49.7) rotate(-90)" font-size="7.1" text-anchor="middle" fill="#222">Frequency/Hz</text>
<text x="-6.00" y="128.7" font-size="9.2" fill="#111" stroke-width="0.25">(f) Wavelet scalogram of class 6</text>
</g>
</g>
<g transform="translate(29.70,278.50)">
<g filter="url(#parula)">
<rect x="-5" y="-5" width="101.0" height="109.4" fill="#000"/>
<g filter="url(#bl)" fill="#fff">
<rect x="-5.0" y="5.0" width="101.0" height="70.0" opacity="0.040"/>
<rect x="-5.0" y="29.0" width="101.0" height="28.0" opacity="0.060"/>
<rect x="-5.0" y="61.0" width="101.0" height="38.0" opacity="0.085"/>
</g>
<g filter="url(#bm)" fill="#fff">
<rect x="-5.0" y="-5.0" width="101.0" height="109.4" opacity="0.012"/>
<rect x="-5.0" y="36.7" width="101.0" height="9.0" opacity="0.120"/>
<rect x="-5.0" y="75.2" width="101.0" height="1.8" opacity="0.130"/>
<rect x="-5.0" y="82.1" width="101.0" height="1.4" opacity="0.110"/>
<rect x="-5.0" y="86.7" width="101.0" height="1.8" opacity="0.270"/>
<ellipse cx="10.6" cy="87.6" rx="5.0" ry="0.9" opacity="0.140"/>
<ellipse cx="30.9" cy="87.6" rx="5.0" ry="0.9" opacity="0.160"/>
<ellipse cx="51.1" cy="87.6" rx="5.0" ry="0.9" opacity="0.120"/>
<ellipse cx="65.4" cy="87.6" rx="5.0" ry="0.9" opacity="0.160"/>
<ellipse cx="81.6" cy="87.6" rx="5.0" ry="0.9" opacity="0.140"/>
<rect x="-5.0" y="91.2" width="101.0" height="1.5" opacity="0.160"/>
<rect x="-5.0" y="94.7" width="101.0" height="1.2" opacity="0.090"/>
</g>
<g filter="url(#bs)" fill="#fff">
<ellipse cx="1.0" cy="16.3" rx="0.8" ry="3.8" opacity="0.085"/>
<ellipse cx="3.2" cy="17.3" rx="1.1" ry="2.6" opacity="0.089"/>
<ellipse cx="6.3" cy="16.5" rx="1.3" ry="2.8" opacity="0.074"/>
<ellipse cx="11.0" cy="15.5" rx="1.3" ry="3.9" opacity="0.087"/>
<ellipse cx="15.1" cy="19.5" rx="1.0" ry="2.9" opacity="0.067"/>
<ellipse cx="16.1" cy="15.5" rx="1.3" ry="3.0" opacity="0.100"/>
<ellipse cx="20.1" cy="11.2" rx="0.8" ry="2.6" opacity="0.073"/>
<ellipse cx="23.3" cy="16.5" rx="1.1" ry="3.3" opacity="0.100"/>
<ellipse cx="25.6" cy="12.2" rx="1.2" ry="3.1" opacity="0.100"/>
<ellipse cx="28.9" cy="18.9" rx="1.3" ry="4.3" opacity="0.079"/>
<ellipse cx="33.3" cy="16.1" rx="1.2" ry="2.9" opacity="0.093"/>
<ellipse cx="33.5" cy="15.9" rx="1.2" ry="4.4" opacity="0.100"/>
<ellipse cx="39.1" cy="12.0" rx="1.1" ry="3.9" opacity="0.091"/>
<ellipse cx="42.0" cy="18.1" rx="1.3" ry="3.7" opacity="0.106"/>
<ellipse cx="42.7" cy="12.5" rx="1.4" ry="4.6" opacity="0.079"/>
<ellipse cx="46.7" cy="9.7" rx="1.2" ry="2.6" opacity="0.091"/>
<ellipse cx="49.0" cy="14.6" rx="1.2" ry="2.8" opacity="0.076"/>
<ellipse cx="52.8" cy="14.5" rx="1.3" ry="2.7" opacity="0.091"/>
<ellipse cx="56.3" cy="17.9" rx="1.3" ry="3.2" opacity="0.088"/>
<ellipse cx="58.7" cy="10.1" rx="1.3" ry="4.9" opacity="0.069"/>
<ellipse cx="61.2" cy="14.0" rx="1.1" ry="4.0" opacity="0.077"/>
<ellipse cx="63.7" cy="16.0" rx="1.0" ry="3.4" opacity="0.099"/>
<ellipse cx="69.6" cy="12.5" rx="1.2" ry="4.2" opacity="0.062"/>
<ellipse cx="72.5" cy="10.4" rx="1.3" ry="4.7" opacity="0.116"/>
<ellipse cx="74.0" cy="12.7" rx="1.2" ry="2.7" opacity="0.063"/>
<ellipse cx="76.5" cy="14.6" rx="0.9" ry="3.4" opacity="0.062"/>
<ellipse cx="78.9" cy="14.6" rx="1.0" ry="2.6" opacity="0.121"/>
<ellipse cx="83.8" cy="14.9" rx="0.9" ry="3.1" opacity="0.083"/>
<ellipse cx="86.0" cy="18.0" rx="1.4" ry="3.7" opacity="0.093"/>
<ellipse cx="88.2" cy="17.9" rx="0.9" ry="3.4" opacity="0.077"/>
<ellipse cx="1.9" cy="30.4" rx="1.4" ry="4.6" opacity="0.069"/>
<ellipse cx="3.5" cy="30.6" rx="0.8" ry="4.6" opacity="0.129"/>
<ellipse cx="6.5" cy="29.3" rx="1.0" ry="3.5" opacity="0.114"/>
<ellipse cx="8.0" cy="27.8" rx="1.3" ry="4.0" opacity="0.074"/>
<ellipse cx="10.9" cy="35.9" rx="1.3" ry="5.5" opacity="0.112"/>
<ellipse cx="11.9" cy="29.5" rx="1.1" ry="4.1" opacity="0.060"/>
<ellipse cx="13.7" cy="29.6" rx="1.2" ry="5.9" opacity="0.090"/>
<ellipse cx="18.1" cy="32.3" rx="1.4" ry="5.9" opacity="0.084"/>
<ellipse cx="18.7" cy="30.3" rx="0.9" ry="4.9" opacity="0.123"/>
<ellipse cx="22.4" cy="32.0" rx="1.1" ry="5.0" opacity="0.116"/>
<ellipse cx="22.9" cy="26.5" rx="1.3" ry="5.3" opacity="0.093"/>
<ellipse cx="25.4" cy="24.5" rx="1.3" ry="4.0" opacity="0.116"/>
<ellipse cx="29.5" cy="27.6" rx="1.3" ry="5.2" opacity="0.070"/>
<ellipse cx="29.9" cy="31.9" rx="0.9" ry="5.7" opacity="0.116"/>
<ellipse cx="32.2" cy="33.9" rx="1.2" ry="4.1" opacity="0.098"/>
<ellipse cx="34.4" cy="22.6" rx="0.8" ry="5.9" opacity="0.105"/>
<ellipse cx="37.6" cy="33.0" rx="1.3" ry="5.5" opacity="0.073"/>
<ellipse cx="39.2" cy="28.7" rx="1.0" ry="3.7" opacity="0.101"/>
<ellipse cx="41.5" cy="28.6" rx="1.3" ry="4.1" opacity="0.091"/>
<ellipse cx="44.6" cy="30.8" rx="1.3" ry="4.3" opacity="0.125"/>
<ellipse cx="46.6" cy="26.5" rx="0.8" ry="4.3" opacity="0.071"/>
<ellipse cx="47.8" cy="29.3" rx="1.3" ry="3.5" opacity="0.092"/>
<ellipse cx="51.7" cy="27.5" rx="1.1" ry="4.7" opacity="0.115"/>
<ellipse cx="52.6" cy="29.1" rx="1.1" ry="3.7" opacity="0.078"/>
<ellipse cx="56.4" cy="26.2" rx="1.2" ry="5.7" opacity="0.090"/>
<ellipse cx="58.3" cy="29.9" rx="1.1" ry="4.5" opacity="0.108"/>
<ellipse cx="60.2" cy="26.7" rx="1.3" ry="5.1" opacity="0.122"/>
<ellipse cx="63.6" cy="29.3" rx="1.0" ry="4.7" opacity="0.126"/>
<ellipse cx="65.6" cy="31.0" rx="1.1" ry="3.2" opacity="0.075"/>
<ellipse cx="66.1" cy="31.2" rx="1.2" ry="5.4" opacity="0.123"/>
<ellipse cx="68.6" cy="29.1" rx="0.9" ry="5.6" opacity="0.128"/>
<ellipse cx="71.0" cy="25.7" rx="1.4" ry="4.2" opacity="0.093"/>
<ellipse cx="75.1" cy="30.9" rx="1.1" ry="4.5" opacity="0.083"/>
<ellipse cx="75.5" cy="28.5" rx="1.0" ry="5.2" opacity="0.059"/>
<ellipse cx="78.6" cy="29.5" rx="1.0" ry="4.9" opacity="0.095"/>
<ellipse cx="79.8" cy="30.2" rx="1.4" ry="5.4" opacity="0.128"/>
<ellipse cx="82.1" cy="30.0" rx="1.3" ry="3.8" opacity="0.067"/>
<ellipse cx="85.1" cy="30.9" rx="1.3" ry="5.5" opacity="0.077"/>
<ellipse cx="86.8" cy="33.4" rx="1.2" ry="3.3" opacity="0.062"/>
<ellipse cx="90.3" cy="28.1" rx="1.0" ry="3.2" opacity="0.126"/>
<ellipse cx="1.0" cy="41.6" rx="1.1" ry="3.1" opacity="0.358"/>
<ellipse cx="2.4" cy="39.9" rx="0.8" ry="4.1" opacity="0.373"/>
<ellipse cx="3.7" cy="43.9" rx="0.8" ry="3.2" opacity="0.185"/>
<ellipse cx="5.0" cy="44.0" rx="0.8" ry="3.6" opacity="0.220"/>
<ellipse cx="7.7" cy="40.3" rx="0.8" ry="3.7" opacity="0.149"/>
<ellipse cx="8.5" cy="44.9" rx="0.7" ry="4.5" opacity="0.281"/>
<ellipse cx="10.1" cy="33.8" rx="0.7" ry="4.6" opacity="0.252"/>
<ellipse cx="12.2" cy="42.4" rx="1.1" ry="3.8" opacity="0.270"/>
<ellipse cx="14.1" cy="44.1" rx="1.1" ry="4.4" opacity="0.302"/>
<ellipse cx="15.3" cy="40.9" rx="0.8" ry="3.1" opacity="0.177"/>
<ellipse cx="16.4" cy="41.1" rx="0.8" ry="3.2" opacity="0.352"/>
<ellipse cx="19.3" cy="38.7" rx="1.0" ry="3.6" opacity="0.205"/>
<ellipse cx="20.0" cy="39.4" rx="0.9" ry="3.5" opacity="0.382"/>
<ellipse cx="22.7" cy="41.7" rx="0.9" ry="3.5" opacity="0.383"/>
<ellipse cx="23.3" cy="41.1" rx="0.9" ry="3.9" opacity="0.269"/>
<ellipse cx="24.7" cy="41.3" rx="0.9" ry="3.0" opacity="0.210"/>
<ellipse cx="26.1" cy="40.4" rx="0.7" ry="3.6" opacity="0.202"/>
<ellipse cx="28.6" cy="41.8" rx="0.9" ry="4.5" opacity="0.307"/>
<ellipse cx="30.4" cy="43.5" rx="0.8" ry="5.0" opacity="0.182"/>
<ellipse cx="32.1" cy="39.0" rx="1.0" ry="3.1" opacity="0.351"/>
<ellipse cx="33.9" cy="37.6" rx="1.1" ry="3.3" opacity="0.274"/>
<ellipse cx="34.9" cy="37.5" rx="1.1" ry="4.6" opacity="0.349"/>
<ellipse cx="36.7" cy="45.0" rx="1.0" ry="3.5" opacity="0.153"/>
<ellipse cx="37.6" cy="38.2" rx="0.9" ry="3.2" opacity="0.351"/>
<ellipse cx="39.9" cy="38.1" rx="1.0" ry="4.0" opacity="0.146"/>
<ellipse cx="41.9" cy="38.0" rx="1.0" ry="4.0" opacity="0.277"/>
<ellipse cx="43.3" cy="46.0" rx="0.8" ry="3.1" opacity="0.210"/>
<ellipse cx="45.1" cy="43.3" rx="0.8" ry="4.5" opacity="0.386"/>
<ellipse cx="46.3" cy="38.5" rx="1.0" ry="4.5" opacity="0.297"/>
<ellipse cx="48.2" cy="43.7" rx="0.7" ry="3.3" opacity="0.208"/>
<ellipse cx="50.0" cy="39.8" rx="0.7" ry="3.1" opacity="0.211"/>
<ellipse cx="51.5" cy="45.1" rx="1.0" ry="4.4" opacity="0.217"/>
<ellipse cx="52.8" cy="37.7" rx="0.7" ry="4.8" opacity="0.194"/>
<ellipse cx="55.2" cy="42.0" rx="1.1" ry="3.0" opacity="0.258"/>
<ellipse cx="56.6" cy="44.6" rx="0.8" ry="3.4" opacity="0.378"/>
<ellipse cx="57.2" cy="40.5" rx="1.0" ry="3.3" opacity="0.274"/>
<ellipse cx="60.0" cy="45.2" rx="0.9" ry="4.8" opacity="0.318"/>
<ellipse cx="60.5" cy="45.6" rx="1.1" ry="4.0" opacity="0.151"/>
<ellipse cx="61.8" cy="37.7" rx="0.8" ry="3.3" opacity="0.230"/>
<ellipse cx="63.9" cy="41.4" rx="1.1" ry="3.0" opacity="0.330"/>
<ellipse cx="66.4" cy="46.5" rx="1.0" ry="4.8" opacity="0.216"/>
<ellipse cx="67.2" cy="46.2" rx="0.9" ry="5.0" opacity="0.290"/>
<ellipse cx="68.8" cy="38.9" rx="0.7" ry="3.2" opacity="0.351"/>
<ellipse cx="70.3" cy="42.3" rx="1.1" ry="3.5" opacity="0.211"/>
<ellipse cx="72.3" cy="42.3" rx="1.1" ry="4.8" opacity="0.345"/>
<ellipse cx="74.2" cy="44.1" rx="1.1" ry="4.9" opacity="0.280"/>
<ellipse cx="75.9" cy="46.1" rx="0.9" ry="4.5" opacity="0.304"/>
<ellipse cx="76.8" cy="42.8" rx="0.7" ry="4.9" opacity="0.176"/>
<ellipse cx="78.8" cy="39.7" rx="1.0" ry="5.0" opacity="0.209"/>
<ellipse cx="80.7" cy="43.4" rx="0.8" ry="4.1" opacity="0.242"/>
<ellipse cx="81.5" cy="42.4" rx="1.1" ry="4.0" opacity="0.199"/>
<ellipse cx="84.3" cy="43.1" rx="1.1" ry="3.9" opacity="0.179"/>
<ellipse cx="84.8" cy="43.7" rx="0.7" ry="3.5" opacity="0.209"/>
<ellipse cx="87.1" cy="42.8" rx="1.1" ry="4.5" opacity="0.247"/>
<ellipse cx="88.4" cy="38.1" rx="0.8" ry="3.1" opacity="0.213"/>
<ellipse cx="90.9" cy="40.7" rx="0.7" ry="4.0" opacity="0.300"/>
<ellipse cx="2.2" cy="53.3" rx="0.9" ry="2.8" opacity="0.124"/>
<ellipse cx="4.9" cy="55.1" rx="1.3" ry="3.7" opacity="0.075"/>
<ellipse cx="5.1" cy="51.2" rx="1.1" ry="3.2" opacity="0.073"/>
<ellipse cx="8.6" cy="46.6" rx="1.3" ry="3.7" opacity="0.172"/>
<ellipse cx="12.6" cy="52.8" rx="0.9" ry="3.0" opacity="0.152"/>
<ellipse cx="15.0" cy="54.2" rx="1.2" ry="3.3" opacity="0.161"/>
<ellipse cx="16.3" cy="52.0" rx="1.3" ry="2.5" opacity="0.179"/>
<ellipse cx="19.3" cy="52.5" rx="1.0" ry="2.3" opacity="0.102"/>
<ellipse cx="21.8" cy="52.3" rx="0.8" ry="3.0" opacity="0.140"/>
<ellipse cx="23.7" cy="51.4" rx="0.9" ry="3.2" opacity="0.074"/>
<ellipse cx="26.0" cy="45.4" rx="1.2" ry="3.8" opacity="0.128"/>
<ellipse cx="28.4" cy="54.6" rx="0.9" ry="3.9" opacity="0.154"/>
<ellipse cx="31.1" cy="56.3" rx="1.2" ry="2.8" opacity="0.102"/>
<ellipse cx="34.5" cy="53.3" rx="1.3" ry="2.5" opacity="0.076"/>
<ellipse cx="36.2" cy="48.8" rx="0.9" ry="3.6" opacity="0.158"/>
<ellipse cx="39.2" cy="54.9" rx="0.9" ry="3.9" opacity="0.109"/>
<ellipse cx="42.5" cy="53.0" rx="1.2" ry="2.6" opacity="0.183"/>
<ellipse cx="44.2" cy="54.9" rx="0.9" ry="2.4" opacity="0.121"/>
<ellipse cx="47.2" cy="54.4" rx="1.0" ry="2.4" opacity="0.185"/>
<ellipse cx="48.4" cy="52.2" rx="0.8" ry="2.1" opacity="0.118"/>
<ellipse cx="52.8" cy="56.4" rx="1.4" ry="3.9" opacity="0.111"/>
<ellipse cx="53.6" cy="49.5" rx="1.3" ry="3.5" opacity="0.076"/>
<ellipse cx="57.3" cy="50.7" rx="1.0" ry="2.3" opacity="0.073"/>
<ellipse cx="58.8" cy="54.8" rx="1.0" ry="3.9" opacity="0.087"/>
<ellipse cx="63.1" cy="53.5" rx="1.3" ry="3.6" opacity="0.123"/>
<ellipse cx="63.3" cy="55.5" rx="1.1" ry="2.7" opacity="0.179"/>
<ellipse cx="66.2" cy="48.6" rx="0.8" ry="2.8" opacity="0.167"/>
<ellipse cx="70.2" cy="57.6" rx="0.8" ry="2.1" opacity="0.080"/>
<ellipse cx="73.1" cy="52.6" rx="1.3" ry="2.7" opacity="0.104"/>
<ellipse cx="75.7" cy="57.7" rx="1.2" ry="2.5" opacity="0.156"/>
<ellipse cx="76.6" cy="52.7" rx="1.2" ry="3.8" opacity="0.146"/>
<ellipse cx="80.7" cy="53.0" rx="0.8" ry="2.5" opacity="0.128"/>
<ellipse cx="83.3" cy="55.6" rx="0.9" ry="2.9" opacity="0.130"/>
<ellipse cx="85.8" cy="51.9" rx="0.9" ry="3.6" opacity="0.158"/>
<ellipse cx="88.0" cy="53.4" rx="1.0" ry="2.6" opacity="0.114"/>
<ellipse cx="90.4" cy="48.7" rx="0.9" ry="2.4" opacity="0.160"/>
<ellipse cx="0.8" cy="63.2" rx="1.1" ry="2.7" opacity="0.100"/>
<ellipse cx="5.7" cy="62.8" rx="1.4" ry="2.5" opacity="0.048"/>
<ellipse cx="6.4" cy="57.8" rx="1.1" ry="2.5" opacity="0.068"/>
<ellipse cx="11.0" cy="62.6" rx="1.2" ry="3.5" opacity="0.093"/>
<ellipse cx="14.1" cy="66.7" rx="1.0" ry="3.1" opacity="0.065"/>
<ellipse cx="17.4" cy="66.5" rx="0.9" ry="2.5" opacity="0.058"/>
<ellipse cx="18.7" cy="65.5" rx="1.0" ry="2.8" opacity="0.101"/>
<ellipse cx="22.8" cy="59.9" rx="0.9" ry="3.6" opacity="0.081"/>
<ellipse cx="27.3" cy="65.2" rx="1.3" ry="3.7" opacity="0.097"/>
<ellipse cx="27.4" cy="64.6" rx="1.0" ry="2.2" opacity="0.054"/>
<ellipse cx="33.3" cy="56.5" rx="1.0" ry="3.7" opacity="0.070"/>
<ellipse cx="34.2" cy="59.1" rx="1.3" ry="3.9" opacity="0.050"/>
<ellipse cx="38.2" cy="61.0" rx="1.0" ry="2.3" opacity="0.055"/>
<ellipse cx="40.2" cy="61.1" rx="1.1" ry="3.3" opacity="0.055"/>
<ellipse cx="42.5" cy="60.4" rx="0.9" ry="2.6" opacity="0.055"/>
<ellipse cx="47.9" cy="66.5" rx="1.1" ry="2.1" opacity="0.049"/>
<ellipse cx="49.7" cy="58.4" rx="0.9" ry="2.3" opacity="0.084"/>
<ellipse cx="52.8" cy="61.2" rx="1.0" ry="2.6" opacity="0.099"/>
<ellipse cx="55.5" cy="59.9" rx="1.0" ry="3.7" opacity="0.101"/>
<ellipse cx="58.7" cy="61.4" rx="0.9" ry="3.5" opacity="0.055"/>
<ellipse cx="60.7" cy="65.1" rx="1.3" ry="2.8" opacity="0.095"/>
<ellipse cx="65.1" cy="60.7" rx="0.9" ry="2.0" opacity="0.075"/>
<ellipse cx="68.7" cy="63.6" rx="1.2" ry="2.7" opacity="0.073"/>
<ellipse cx="70.2" cy="61.8" rx="1.0" ry="3.0" opacity="0.097"/>
<ellipse cx="73.1" cy="57.1" rx="1.4" ry="2.4" opacity="0.051"/>
<ellipse cx="78.7" cy="62.8" rx="1.4" ry="3.0" opacity="0.047"/>
<ellipse cx="81.7" cy="57.6" rx="1.2" ry="3.6" opacity="0.053"/>
<ellipse cx="84.3" cy="66.7" rx="0.9" ry="2.8" opacity="0.093"/>
<ellipse cx="87.4" cy="63.4" rx="1.0" ry="3.0" opacity="0.066"/>
<ellipse cx="88.3" cy="64.4" rx="0.9" ry="3.4" opacity="0.096"/>
</g>
<g filter="url(#bh)" fill="#fff">
<ellipse cx="0.2" cy="63.3" rx="3.1" ry="1.1" opacity="0.025"/>
<ellipse cx="7.3" cy="66.1" rx="4.7" ry="1.0" opacity="0.032"/>
<ellipse cx="11.0" cy="65.3" rx="5.0" ry="0.9" opacity="0.038"/>
<ellipse cx="13.8" cy="66.4" rx="4.9" ry="0.9" opacity="0.029"/>
<ellipse cx="21.7" cy="68.6" rx="3.5" ry="0.9" opacity="0.024"/>
<ellipse cx="23.3" cy="64.7" rx="4.3" ry="0.7" opacity="0.038"/>
<ellipse cx="29.6" cy="72.1" rx="3.2" ry="1.0" opacity="0.051"/>
<ellipse cx="34.2" cy="69.1" rx="3.2" ry="0.9" opacity="0.035"/>
<ellipse cx="40.7" cy="71.9" rx="6.0" ry="1.0" opacity="0.053"/>
<ellipse cx="41.8" cy="72.5" rx="5.9" ry="0.9" opacity="0.058"/>
<ellipse cx="49.7" cy="70.7" rx="5.8" ry="0.6" opacity="0.034"/>
<ellipse cx="53.5" cy="72.6" rx="3.5" ry="1.1" opacity="0.031"/>
<ellipse cx="58.3" cy="70.2" rx="5.8" ry="0.7" opacity="0.031"/>
<ellipse cx="61.5" cy="70.8" rx="4.0" ry="0.6" opacity="0.027"/>
<ellipse cx="64.4" cy="72.2" rx="5.7" ry="0.7" opacity="0.051"/>
<ellipse cx="68.8" cy="66.2" rx="4.6" ry="1.0" opacity="0.034"/>
<ellipse cx="76.8" cy="64.3" rx="5.6" ry="0.7" opacity="0.060"/>
<ellipse cx="80.2" cy="66.7" rx="4.2" ry="1.1" opacity="0.031"/>
<ellipse cx="86.4" cy="65.5" rx="5.3" ry="0.9" opacity="0.027"/>
<ellipse cx="89.8" cy="66.7" rx="3.1" ry="1.1" opacity="0.030"/>
<rect x="-5.0" y="97.9" width="101.0" height="1.1" opacity="0.300"/>
</g>
<g filter="url(#bd)" fill="#fff">
<ellipse cx="5.5" cy="41.8" rx="0.9" ry="2.2" opacity="0.700"/>
<ellipse cx="8.5" cy="41.8" rx="0.9" ry="2.2" opacity="0.550"/>
<ellipse cx="69.4" cy="41.8" rx="0.9" ry="2.2" opacity="0.400"/>
<ellipse cx="87.7" cy="41.8" rx="0.9" ry="2.2" opacity="0.400"/>
<ellipse cx="59.3" cy="41.8" rx="0.9" ry="2.2" opacity="0.250"/>
<ellipse cx="34.9" cy="41.8" rx="0.9" ry="2.2" opacity="0.200"/>
<ellipse cx="22.7" cy="41.8" rx="0.9" ry="2.2" opacity="0.200"/>
<ellipse cx="79.6" cy="41.8" rx="0.9" ry="2.2" opacity="0.250"/>
</g>
</g>
<g filter="url(#tb)" stroke="#222" stroke-width="0.08">
<rect x="95.8" y="0.2" width="8.9" height="97.7" fill="url(#cb)" stroke="#333" stroke-width="0.4"/>
<line x1="103.5" x2="104.7" y1="1.80" y2="1.80" stroke="#333" stroke-width="0.4"/>
<text x="107.2" y="4.10" font-size="7" fill="#222">0.3</text>
<line x1="103.5" x2="104.7" y1="17.80" y2="17.80" stroke="#333" stroke-width="0.4"/>
<text x="107.2" y="20.10" font-size="7" fill="#222">0.25</text>
<line x1="103.5" x2="104.7" y1="33.80" y2="33.80" stroke="#333" stroke-width="0.4"/>
<text x="107.2" y="36.10" font-size="7" fill="#222">0.2</text>
<line x1="103.5" x2="104.7" y1="49.80" y2="49.80" stroke="#333" stroke-width="0.4"/>
<text x="107.2" y="52.10" font-size="7" fill="#222">0.15</text>
<line x1="103.5" x2="104.7" y1="65.80" y2="65.80" stroke="#333" stroke-width="0.4"/>
<text x="107.2" y="68.10" font-size="7" fill="#222">0.1</text>
<line x1="103.5" x2="104.7" y1="81.80" y2="81.80" stroke="#333" stroke-width="0.4"/>
<text x="107.2" y="84.10" font-size="7" fill="#222">0.05</text>
<text x="-2.6" y="85.53" font-size="7" text-anchor="end" fill="#222">1000</text>
<text x="-2.6" y="68.97" font-size="7" text-anchor="end" fill="#222">2000</text>
<text x="-2.6" y="52.40" font-size="7" text-anchor="end" fill="#222">3000</text>
<text x="-2.6" y="35.83" font-size="7" text-anchor="end" fill="#222">4000</text>
<text x="-2.6" y="19.27" font-size="7" text-anchor="end" fill="#222">5000</text>
<text x="-2.6" y="3.30" font-size="7" text-anchor="end" fill="#222">6000</text>
<text x="0.00" y="109.4" font-size="7" text-anchor="middle" fill="#222">0</text>
<text x="27.00" y="109.4" font-size="7" text-anchor="middle" fill="#222">0.05</text>
<text x="54.00" y="109.4" font-size="7" text-anchor="middle" fill="#222">0.1</text>
<text x="81.00" y="109.4" font-size="7" text-anchor="middle" fill="#222">0.15</text>
<text x="45.4" y="117.6" font-size="7" text-anchor="middle" fill="#222">Time/s</text>
<text transform="translate(-20.6,49.7) rotate(-90)" font-size="7.1" text-anchor="middle" fill="#222">Frequency/Hz</text>
<text x="-7.50" y="128.7" font-size="9.2" fill="#111" stroke-width="0.25">(g) Wavelet scalogram of class 7</text>
</g>
</g>
<g transform="translate(190.60,278.50)">
<g filter="url(#parula)">
<rect x="-5" y="-5" width="101.0" height="109.4" fill="#000"/>
<g filter="url(#bl)" fill="#fff">
<rect x="-5.0" y="19.0" width="101.0" height="46.0" opacity="0.040"/>
<rect x="-5.0" y="37.0" width="101.0" height="20.0" opacity="0.070"/>
<rect x="-5.0" y="65.0" width="101.0" height="34.0" opacity="0.075"/>
</g>
<g filter="url(#bm)" fill="#fff">
<rect x="-5.0" y="-5.0" width="101.0" height="109.4" opacity="0.012"/>
<rect x="-5.0" y="41.2" width="101.0" height="7.0" opacity="0.080"/>
<ellipse cx="8.5" cy="44.7" rx="1.4" ry="3.8" opacity="0.140"/>
<ellipse cx="25.8" cy="44.7" rx="1.4" ry="3.8" opacity="0.140"/>
<ellipse cx="45.5" cy="44.7" rx="1.4" ry="3.8" opacity="0.140"/>
<ellipse cx="62.3" cy="44.7" rx="1.4" ry="3.8" opacity="0.140"/>
<ellipse cx="82.6" cy="44.7" rx="1.4" ry="3.8" opacity="0.140"/>
<rect x="-5.0" y="75.3" width="101.0" height="1.6" opacity="0.130"/>
<ellipse cx="22.7" cy="90.5" rx="4.5" ry="1.0" opacity="0.200"/>
<ellipse cx="41.0" cy="90.5" rx="4.5" ry="1.0" opacity="0.200"/>
<ellipse cx="77.5" cy="90.5" rx="4.5" ry="1.0" opacity="0.240"/>
<ellipse cx="59.3" cy="90.5" rx="4.5" ry="1.0" opacity="0.100"/>
<ellipse cx="6.5" cy="90.5" rx="4.5" ry="1.0" opacity="0.100"/>
</g>
<g filter="url(#bs)" fill="#fff">
<ellipse cx="0.6" cy="30.5" rx="0.9" ry="3.3" opacity="0.101"/>
<ellipse cx="5.1" cy="28.7" rx="0.7" ry="4.9" opacity="0.126"/>
<ellipse cx="6.2" cy="27.1" rx="1.0" ry="3.3" opacity="0.100"/>
<ellipse cx="7.6" cy="29.1" rx="0.7" ry="4.2" opacity="0.177"/>
<ellipse cx="11.1" cy="30.8" rx="1.0" ry="3.2" opacity="0.144"/>
<ellipse cx="13.6" cy="30.5" rx="0.9" ry="4.0" opacity="0.153"/>
<ellipse cx="16.4" cy="25.2" rx="0.8" ry="3.4" opacity="0.080"/>
<ellipse cx="20.1" cy="23.8" rx="0.8" ry="3.6" opacity="0.182"/>
<ellipse cx="21.7" cy="28.2" rx="0.7" ry="4.1" opacity="0.174"/>
<ellipse cx="23.1" cy="22.9" rx="0.9" ry="3.3" opacity="0.153"/>
<ellipse cx="27.1" cy="34.5" rx="0.8" ry="3.6" opacity="0.090"/>
<ellipse cx="29.1" cy="27.2" rx="0.8" ry="3.2" opacity="0.177"/>
<ellipse cx="31.6" cy="28.4" rx="0.7" ry="3.0" opacity="0.112"/>
<ellipse cx="33.5" cy="27.0" rx="0.8" ry="4.1" opacity="0.169"/>
<ellipse cx="37.6" cy="30.4" rx="0.7" ry="5.0" opacity="0.186"/>
<ellipse cx="38.4" cy="31.7" rx="0.9" ry="3.9" opacity="0.074"/>
<ellipse cx="42.4" cy="28.0" rx="0.8" ry="3.7" opacity="0.120"/>
<ellipse cx="44.1" cy="30.6" rx="0.8" ry="4.8" opacity="0.106"/>
<ellipse cx="45.7" cy="30.2" rx="0.8" ry="4.1" opacity="0.166"/>
<ellipse cx="49.3" cy="29.8" rx="0.9" ry="5.9" opacity="0.080"/>
<ellipse cx="50.6" cy="30.9" rx="0.8" ry="5.2" opacity="0.113"/>
<ellipse cx="55.5" cy="31.3" rx="0.6" ry="5.5" opacity="0.097"/>
<ellipse cx="57.8" cy="36.6" rx="0.9" ry="6.0" opacity="0.140"/>
<ellipse cx="58.6" cy="30.6" rx="1.0" ry="4.3" opacity="0.082"/>
<ellipse cx="62.2" cy="25.6" rx="0.6" ry="3.4" opacity="0.140"/>
<ellipse cx="64.3" cy="29.1" rx="0.6" ry="4.3" opacity="0.157"/>
<ellipse cx="67.5" cy="26.1" rx="0.7" ry="3.7" opacity="0.095"/>
<ellipse cx="69.4" cy="29.6" rx="0.6" ry="5.2" opacity="0.155"/>
<ellipse cx="72.3" cy="31.8" rx="0.8" ry="3.3" opacity="0.185"/>
<ellipse cx="75.2" cy="29.4" rx="0.8" ry="5.1" opacity="0.096"/>
<ellipse cx="76.4" cy="24.1" rx="0.9" ry="3.0" opacity="0.144"/>
<ellipse cx="80.7" cy="28.2" rx="0.9" ry="5.8" opacity="0.186"/>
<ellipse cx="81.5" cy="27.9" rx="1.0" ry="4.1" opacity="0.182"/>
<ellipse cx="85.6" cy="32.6" rx="0.8" ry="4.9" opacity="0.184"/>
<ellipse cx="87.9" cy="27.4" rx="0.7" ry="4.1" opacity="0.184"/>
<ellipse cx="90.6" cy="34.6" rx="0.7" ry="3.9" opacity="0.144"/>
<ellipse cx="1.8" cy="43.1" rx="0.9" ry="3.8" opacity="0.367"/>
<ellipse cx="3.0" cy="41.2" rx="0.8" ry="3.2" opacity="0.343"/>
<ellipse cx="6.1" cy="44.6" rx="0.9" ry="2.7" opacity="0.308"/>
<ellipse cx="6.8" cy="45.3" rx="1.0" ry="2.7" opacity="0.267"/>
<ellipse cx="10.4" cy="43.4" rx="1.0" ry="3.0" opacity="0.289"/>
<ellipse cx="12.9" cy="44.6" rx="0.9" ry="3.7" opacity="0.254"/>
<ellipse cx="14.8" cy="42.2" rx="0.7" ry="3.8" opacity="0.427"/>
<ellipse cx="16.0" cy="42.9" rx="0.9" ry="3.8" opacity="0.491"/>
<ellipse cx="19.3" cy="44.8" rx="0.9" ry="3.6" opacity="0.202"/>
<ellipse cx="20.5" cy="43.8" rx="1.0" ry="4.0" opacity="0.469"/>
<ellipse cx="21.9" cy="42.1" rx="0.9" ry="2.8" opacity="0.186"/>
<ellipse cx="25.8" cy="42.7" rx="1.0" ry="3.5" opacity="0.291"/>
<ellipse cx="27.8" cy="45.7" rx="0.9" ry="2.8" opacity="0.269"/>
<ellipse cx="28.9" cy="42.3" rx="0.7" ry="3.2" opacity="0.210"/>
<ellipse cx="31.9" cy="44.1" rx="0.7" ry="3.0" opacity="0.312"/>
<ellipse cx="34.2" cy="45.4" rx="0.6" ry="2.6" opacity="0.268"/>
<ellipse cx="35.0" cy="44.6" rx="0.6" ry="3.3" opacity="0.409"/>
<ellipse cx="38.6" cy="43.9" rx="0.8" ry="2.9" opacity="0.455"/>
<ellipse cx="40.6" cy="42.6" rx="1.0" ry="4.2" opacity="0.471"/>
<ellipse cx="41.5" cy="44.9" rx="0.7" ry="3.0" opacity="0.228"/>
<ellipse cx="45.0" cy="47.8" rx="0.8" ry="3.4" opacity="0.306"/>
<ellipse cx="47.5" cy="45.9" rx="0.8" ry="4.0" opacity="0.468"/>
<ellipse cx="49.2" cy="46.5" rx="0.7" ry="3.9" opacity="0.342"/>
<ellipse cx="50.5" cy="44.5" rx="0.9" ry="3.2" opacity="0.215"/>
<ellipse cx="53.8" cy="40.4" rx="0.8" ry="4.1" opacity="0.266"/>
<ellipse cx="54.6" cy="44.7" rx="0.8" ry="3.7" opacity="0.437"/>
<ellipse cx="57.7" cy="45.8" rx="0.6" ry="2.9" opacity="0.475"/>
<ellipse cx="59.3" cy="45.8" rx="0.9" ry="3.4" opacity="0.220"/>
<ellipse cx="62.2" cy="45.5" rx="0.8" ry="2.5" opacity="0.482"/>
<ellipse cx="63.8" cy="45.1" rx="0.9" ry="4.1" opacity="0.208"/>
<ellipse cx="67.2" cy="46.8" rx="0.9" ry="4.2" opacity="0.288"/>
<ellipse cx="69.2" cy="45.2" rx="0.9" ry="3.2" opacity="0.228"/>
<ellipse cx="69.8" cy="43.7" rx="0.7" ry="3.8" opacity="0.294"/>
<ellipse cx="72.9" cy="45.8" rx="0.6" ry="2.5" opacity="0.400"/>
<ellipse cx="75.6" cy="44.5" rx="0.7" ry="2.9" opacity="0.291"/>
<ellipse cx="77.0" cy="45.0" rx="0.7" ry="3.5" opacity="0.425"/>
<ellipse cx="79.7" cy="44.5" rx="0.7" ry="3.9" opacity="0.266"/>
<ellipse cx="82.0" cy="42.5" rx="0.8" ry="3.5" opacity="0.333"/>
<ellipse cx="83.8" cy="43.5" rx="0.9" ry="2.9" opacity="0.366"/>
<ellipse cx="85.5" cy="46.4" rx="0.8" ry="3.0" opacity="0.348"/>
<ellipse cx="88.2" cy="45.1" rx="1.0" ry="2.4" opacity="0.427"/>
<ellipse cx="90.5" cy="45.4" rx="0.7" ry="3.5" opacity="0.255"/>
<ellipse cx="2.5" cy="56.8" rx="0.6" ry="3.1" opacity="0.165"/>
<ellipse cx="3.7" cy="57.5" rx="1.0" ry="3.2" opacity="0.287"/>
<ellipse cx="7.3" cy="56.2" rx="0.9" ry="2.5" opacity="0.314"/>
<ellipse cx="9.7" cy="56.2" rx="1.0" ry="2.0" opacity="0.343"/>
<ellipse cx="11.6" cy="53.9" rx="1.0" ry="3.1" opacity="0.344"/>
<ellipse cx="16.8" cy="56.2" rx="0.8" ry="2.2" opacity="0.150"/>
<ellipse cx="19.1" cy="59.5" rx="0.7" ry="3.0" opacity="0.268"/>
<ellipse cx="20.6" cy="55.4" rx="0.9" ry="2.3" opacity="0.122"/>
<ellipse cx="22.9" cy="53.0" rx="0.7" ry="2.6" opacity="0.277"/>
<ellipse cx="26.3" cy="56.7" rx="0.8" ry="3.0" opacity="0.210"/>
<ellipse cx="29.0" cy="55.2" rx="0.7" ry="3.3" opacity="0.268"/>
<ellipse cx="33.7" cy="53.2" rx="0.9" ry="2.8" opacity="0.282"/>
<ellipse cx="35.0" cy="55.9" rx="0.7" ry="2.8" opacity="0.321"/>
<ellipse cx="38.9" cy="55.7" rx="1.0" ry="3.4" opacity="0.341"/>
<ellipse cx="41.6" cy="54.6" rx="0.7" ry="3.3" opacity="0.258"/>
<ellipse cx="43.1" cy="54.8" rx="0.7" ry="2.4" opacity="0.284"/>
<ellipse cx="47.2" cy="57.4" rx="0.8" ry="2.4" opacity="0.219"/>
<ellipse cx="51.2" cy="59.6" rx="0.6" ry="2.4" opacity="0.254"/>
<ellipse cx="53.6" cy="58.4" rx="0.9" ry="2.2" opacity="0.206"/>
<ellipse cx="56.5" cy="55.4" rx="0.9" ry="2.7" opacity="0.255"/>
<ellipse cx="58.3" cy="52.1" rx="1.0" ry="2.3" opacity="0.291"/>
<ellipse cx="62.4" cy="55.1" rx="0.9" ry="2.8" opacity="0.202"/>
<ellipse cx="63.9" cy="53.8" rx="0.6" ry="3.6" opacity="0.180"/>
<ellipse cx="67.0" cy="55.0" rx="0.7" ry="3.0" opacity="0.133"/>
<ellipse cx="69.2" cy="55.0" rx="0.8" ry="2.3" opacity="0.230"/>
<ellipse cx="73.4" cy="57.7" rx="0.9" ry="3.6" opacity="0.336"/>
<ellipse cx="75.3" cy="52.8" rx="1.0" ry="2.9" opacity="0.271"/>
<ellipse cx="78.7" cy="57.2" rx="0.8" ry="2.8" opacity="0.209"/>
<ellipse cx="80.9" cy="52.5" rx="0.6" ry="2.2" opacity="0.330"/>
<ellipse cx="83.9" cy="57.1" rx="0.9" ry="3.5" opacity="0.287"/>
<ellipse cx="86.9" cy="59.4" rx="0.8" ry="2.3" opacity="0.153"/>
<ellipse cx="90.4" cy="55.5" rx="1.0" ry="2.6" opacity="0.239"/>
</g>
<g filter="url(#bh)" fill="#fff">
<ellipse cx="2.8" cy="83.5" rx="6.6" ry="0.9" opacity="0.097"/>
<ellipse cx="7.0" cy="84.0" rx="4.8" ry="1.0" opacity="0.055"/>
<ellipse cx="10.5" cy="82.7" rx="4.2" ry="0.7" opacity="0.048"/>
<ellipse cx="12.9" cy="81.4" rx="3.7" ry="0.9" opacity="0.085"/>
<ellipse cx="19.5" cy="79.7" rx="3.1" ry="0.8" opacity="0.050"/>
<ellipse cx="22.8" cy="88.6" rx="5.3" ry="0.9" opacity="0.075"/>
<ellipse cx="26.3" cy="85.1" rx="3.8" ry="0.9" opacity="0.085"/>
<ellipse cx="29.4" cy="87.7" rx="6.4" ry="0.6" opacity="0.050"/>
<ellipse cx="34.9" cy="83.6" rx="5.8" ry="1.0" opacity="0.103"/>
<ellipse cx="39.2" cy="90.2" rx="5.7" ry="0.9" opacity="0.050"/>
<ellipse cx="41.7" cy="87.8" rx="4.1" ry="0.9" opacity="0.093"/>
<ellipse cx="49.3" cy="89.9" rx="3.6" ry="1.2" opacity="0.040"/>
<ellipse cx="53.3" cy="89.8" rx="6.2" ry="0.9" opacity="0.085"/>
<ellipse cx="57.3" cy="85.6" rx="6.8" ry="0.8" opacity="0.058"/>
<ellipse cx="61.7" cy="78.8" rx="3.9" ry="1.1" opacity="0.053"/>
<ellipse cx="62.7" cy="81.3" rx="4.2" ry="1.2" opacity="0.071"/>
<ellipse cx="68.0" cy="85.6" rx="4.8" ry="0.9" opacity="0.067"/>
<ellipse cx="73.3" cy="87.5" rx="4.2" ry="1.2" opacity="0.113"/>
<ellipse cx="76.8" cy="90.1" rx="5.5" ry="1.0" opacity="0.074"/>
<ellipse cx="81.6" cy="89.1" rx="7.0" ry="1.0" opacity="0.043"/>
<ellipse cx="85.3" cy="82.4" rx="6.8" ry="0.6" opacity="0.041"/>
<ellipse cx="89.9" cy="82.5" rx="3.4" ry="0.7" opacity="0.105"/>
<ellipse cx="2.1" cy="72.0" rx="5.0" ry="0.8" opacity="0.022"/>
<ellipse cx="11.2" cy="64.4" rx="5.6" ry="1.2" opacity="0.035"/>
<ellipse cx="13.0" cy="65.8" rx="3.6" ry="0.7" opacity="0.032"/>
<ellipse cx="17.9" cy="65.8" rx="3.8" ry="1.2" opacity="0.048"/>
<ellipse cx="27.8" cy="62.9" rx="3.5" ry="1.0" opacity="0.049"/>
<ellipse cx="32.9" cy="67.6" rx="6.0" ry="1.0" opacity="0.029"/>
<ellipse cx="34.2" cy="67.3" rx="4.6" ry="1.0" opacity="0.044"/>
<ellipse cx="41.5" cy="73.6" rx="3.4" ry="1.1" opacity="0.038"/>
<ellipse cx="45.7" cy="66.4" rx="5.3" ry="0.7" opacity="0.028"/>
<ellipse cx="55.3" cy="63.5" rx="5.0" ry="0.8" opacity="0.049"/>
<ellipse cx="58.6" cy="69.3" rx="4.4" ry="1.2" opacity="0.041"/>
<ellipse cx="66.9" cy="67.0" rx="5.7" ry="1.0" opacity="0.036"/>
<ellipse cx="72.9" cy="60.6" rx="5.3" ry="0.6" opacity="0.029"/>
<ellipse cx="79.0" cy="66.5" rx="3.4" ry="0.6" opacity="0.037"/>
<ellipse cx="83.6" cy="75.6" rx="4.9" ry="1.0" opacity="0.036"/>
<ellipse cx="90.1" cy="67.1" rx="5.1" ry="0.7" opacity="0.039"/>
<rect x="-5.0" y="97.7" width="101.0" height="1.2" opacity="0.300"/>
</g>
<g filter="url(#bd)" fill="#fff">
<ellipse cx="8.5" cy="44.7" rx="0.6" ry="3.0" opacity="0.900"/>
<ellipse cx="25.8" cy="44.7" rx="0.6" ry="3.0" opacity="0.900"/>
<ellipse cx="45.5" cy="44.7" rx="0.6" ry="3.0" opacity="0.900"/>
<ellipse cx="62.3" cy="44.7" rx="0.6" ry="3.0" opacity="0.900"/>
<ellipse cx="82.6" cy="44.7" rx="0.6" ry="3.0" opacity="0.900"/>
<ellipse cx="79.6" cy="46.3" rx="0.8" ry="2.2" opacity="0.600"/>
<ellipse cx="22.7" cy="98.3" rx="24.0" ry="0.6" opacity="0.300"/>
</g>
</g>
<g filter="url(#tb)" stroke="#222" stroke-width="0.08">
<rect x="95.8" y="0.2" width="8.9" height="97.7" fill="url(#cb)" stroke="#333" stroke-width="0.4"/>
<line x1="103.5" x2="104.7" y1="2.80" y2="2.80" stroke="#333" stroke-width="0.4"/>
<text x="107.2" y="5.10" font-size="7" fill="#222">0.4</text>
<line x1="103.5" x2="104.7" y1="26.75" y2="26.75" stroke="#333" stroke-width="0.4"/>
<text x="107.2" y="29.05" font-size="7" fill="#222">0.3</text>
<line x1="103.5" x2="104.7" y1="50.70" y2="50.70" stroke="#333" stroke-width="0.4"/>
<text x="107.2" y="53.00" font-size="7" fill="#222">0.2</text>
<line x1="103.5" x2="104.7" y1="74.65" y2="74.65" stroke="#333" stroke-width="0.4"/>
<text x="107.2" y="76.95" font-size="7" fill="#222">0.1</text>
<text x="-2.6" y="85.53" font-size="7" text-anchor="end" fill="#222">1000</text>
<text x="-2.6" y="68.97" font-size="7" text-anchor="end" fill="#222">2000</text>
<text x="-2.6" y="52.40" font-size="7" text-anchor="end" fill="#222">3000</text>
<text x="-2.6" y="35.83" font-size="7" text-anchor="end" fill="#222">4000</text>
<text x="-2.6" y="19.27" font-size="7" text-anchor="end" fill="#222">5000</text>
<text x="-2.6" y="3.30" font-size="7" text-anchor="end" fill="#222">6000</text>
<text x="0.00" y="109.4" font-size="7" text-anchor="middle" fill="#222">0</text>
<text x="27.00" y="109.4" font-size="7" text-anchor="middle" fill="#222">0.05</text>
<text x="54.00" y="109.4" font-size="7" text-anchor="middle" fill="#222">0.1</text>
<text x="81.00" y="109.4" font-size="7" text-anchor="middle" fill="#222">0.15</text>
<text x="45.4" y="117.6" font-size="7" text-anchor="middle" fill="#222">Time/s</text>
<text transform="translate(-20.6,49.7) rotate(-90)" font-size="7.1" text-anchor="middle" fill="#222">Frequency/Hz</text>
<text x="-6.60" y="128.7" font-size="9.2" fill="#111" stroke-width="0.25">(h) Wavelet scalogram of class 8</text>
</g>
</g>
<g transform="translate(351.70,278.50)">
<g filter="url(#parula)">
<rect x="-5" y="-5" width="101.0" height="109.4" fill="#000"/>
<g filter="url(#bl)" fill="#fff">
<rect x="-5.0" y="40.0" width="101.0" height="18.0" opacity="0.070"/>
<rect x="-5.0" y="74.0" width="101.0" height="24.0" opacity="0.035"/>
</g>
<g filter="url(#bm)" fill="#fff">
<rect x="-5.0" y="-5.0" width="101.0" height="109.4" opacity="0.012"/>
<ellipse cx="4.7" cy="48.7" rx="5.5" ry="6.5" opacity="0.090"/>
<ellipse cx="4.5" cy="67.6" rx="1.2" ry="3.0" opacity="0.050"/>
<ellipse cx="7.9" cy="65.6" rx="1.0" ry="3.0" opacity="0.035"/>
<ellipse cx="21.5" cy="48.7" rx="5.5" ry="6.5" opacity="0.090"/>
<ellipse cx="21.3" cy="67.6" rx="1.2" ry="3.0" opacity="0.050"/>
<ellipse cx="24.8" cy="65.6" rx="1.0" ry="3.0" opacity="0.035"/>
<ellipse cx="41.2" cy="48.7" rx="5.5" ry="6.5" opacity="0.090"/>
<ellipse cx="41.0" cy="67.6" rx="1.2" ry="3.0" opacity="0.050"/>
<ellipse cx="44.4" cy="65.6" rx="1.0" ry="3.0" opacity="0.035"/>
<ellipse cx="58.9" cy="48.7" rx="5.5" ry="6.5" opacity="0.090"/>
<ellipse cx="58.7" cy="67.6" rx="1.2" ry="3.0" opacity="0.050"/>
<ellipse cx="62.1" cy="65.6" rx="1.0" ry="3.0" opacity="0.035"/>
<ellipse cx="78.7" cy="48.7" rx="5.5" ry="6.5" opacity="0.090"/>
<ellipse cx="78.5" cy="67.6" rx="1.2" ry="3.0" opacity="0.050"/>
<ellipse cx="82.0" cy="65.6" rx="1.0" ry="3.0" opacity="0.035"/>
<ellipse cx="93.4" cy="48.7" rx="5.5" ry="6.5" opacity="0.090"/>
<ellipse cx="93.2" cy="67.6" rx="1.2" ry="3.0" opacity="0.050"/>
<ellipse cx="96.6" cy="65.6" rx="1.0" ry="3.0" opacity="0.035"/>
<rect x="-5.0" y="92.9" width="101.0" height="3.2" opacity="0.085"/>
</g>
<g filter="url(#bs)" fill="#fff">
<ellipse cx="1.1" cy="45.5" rx="1.0" ry="3.0" opacity="0.080"/>
<ellipse cx="4.3" cy="48.6" rx="0.6" ry="4.7" opacity="0.088"/>
<ellipse cx="4.6" cy="42.5" rx="0.8" ry="5.2" opacity="0.055"/>
<ellipse cx="7.4" cy="51.3" rx="0.6" ry="4.5" opacity="0.110"/>
<ellipse cx="10.4" cy="47.6" rx="0.9" ry="3.3" opacity="0.065"/>
<ellipse cx="12.9" cy="43.1" rx="0.9" ry="4.3" opacity="0.050"/>
<ellipse cx="14.3" cy="47.8" rx="0.9" ry="3.6" opacity="0.108"/>
<ellipse cx="17.9" cy="50.1" rx="0.6" ry="4.1" opacity="0.079"/>
<ellipse cx="18.3" cy="39.2" rx="0.6" ry="4.8" opacity="0.052"/>
<ellipse cx="21.8" cy="51.0" rx="1.0" ry="3.6" opacity="0.044"/>
<ellipse cx="22.9" cy="46.3" rx="0.6" ry="4.5" opacity="0.110"/>
<ellipse cx="26.0" cy="46.8" rx="0.8" ry="4.9" opacity="0.050"/>
<ellipse cx="28.6" cy="49.6" rx="1.0" ry="3.2" opacity="0.084"/>
<ellipse cx="31.0" cy="51.8" rx="0.6" ry="3.8" opacity="0.116"/>
<ellipse cx="34.1" cy="51.5" rx="1.0" ry="3.7" opacity="0.088"/>
<ellipse cx="34.2" cy="51.3" rx="0.7" ry="5.0" opacity="0.086"/>
<ellipse cx="38.2" cy="50.2" rx="1.0" ry="4.8" opacity="0.076"/>
<ellipse cx="39.6" cy="48.9" rx="1.0" ry="4.7" opacity="0.045"/>
<ellipse cx="42.8" cy="45.0" rx="0.7" ry="4.3" opacity="0.067"/>
<ellipse cx="43.4" cy="50.8" rx="0.9" ry="3.3" opacity="0.100"/>
<ellipse cx="45.6" cy="48.4" rx="0.8" ry="5.1" opacity="0.061"/>
<ellipse cx="49.5" cy="39.9" rx="0.8" ry="3.7" opacity="0.113"/>
<ellipse cx="51.0" cy="41.5" rx="0.7" ry="5.0" opacity="0.056"/>
<ellipse cx="54.2" cy="52.7" rx="0.7" ry="3.2" opacity="0.114"/>
<ellipse cx="55.0" cy="58.0" rx="0.9" ry="3.0" opacity="0.048"/>
<ellipse cx="57.3" cy="43.1" rx="0.8" ry="4.8" opacity="0.114"/>
<ellipse cx="60.0" cy="50.3" rx="0.6" ry="3.3" opacity="0.084"/>
<ellipse cx="63.0" cy="51.0" rx="0.6" ry="4.4" opacity="0.095"/>
<ellipse cx="65.4" cy="40.8" rx="0.7" ry="5.1" opacity="0.099"/>
<ellipse cx="68.0" cy="52.6" rx="0.8" ry="3.3" opacity="0.047"/>
<ellipse cx="69.5" cy="49.6" rx="0.6" ry="5.3" opacity="0.060"/>
<ellipse cx="70.6" cy="52.0" rx="0.7" ry="4.4" opacity="0.084"/>
<ellipse cx="73.7" cy="49.1" rx="1.0" ry="4.6" opacity="0.112"/>
<ellipse cx="75.1" cy="51.1" rx="1.0" ry="5.7" opacity="0.083"/>
<ellipse cx="78.5" cy="38.5" rx="0.6" ry="4.9" opacity="0.083"/>
<ellipse cx="80.3" cy="45.0" rx="0.9" ry="5.2" opacity="0.051"/>
<ellipse cx="83.5" cy="42.6" rx="0.9" ry="3.2" opacity="0.087"/>
<ellipse cx="85.0" cy="48.3" rx="1.0" ry="3.7" opacity="0.103"/>
<ellipse cx="88.1" cy="41.2" rx="0.6" ry="4.8" opacity="0.088"/>
<ellipse cx="90.3" cy="41.2" rx="0.8" ry="3.2" opacity="0.057"/>
<ellipse cx="0.7" cy="48.3" rx="1.1" ry="5.2" opacity="0.232"/>
<ellipse cx="0.2" cy="37.2" rx="0.7" ry="4.4" opacity="0.075"/>
<ellipse cx="2.9" cy="50.2" rx="1.1" ry="5.2" opacity="0.377"/>
<ellipse cx="2.7" cy="38.9" rx="0.7" ry="3.0" opacity="0.099"/>
<ellipse cx="6.4" cy="50.9" rx="1.1" ry="5.2" opacity="0.319"/>
<ellipse cx="7.0" cy="39.1" rx="0.7" ry="3.3" opacity="0.064"/>
<ellipse cx="8.8" cy="50.2" rx="1.1" ry="5.2" opacity="0.145"/>
<ellipse cx="8.4" cy="36.6" rx="0.7" ry="3.3" opacity="0.050"/>
<ellipse cx="18.0" cy="50.9" rx="1.1" ry="5.2" opacity="0.232"/>
<ellipse cx="17.8" cy="38.7" rx="0.7" ry="4.4" opacity="0.074"/>
<ellipse cx="20.1" cy="49.8" rx="1.1" ry="5.2" opacity="0.377"/>
<ellipse cx="19.8" cy="36.8" rx="0.7" ry="4.6" opacity="0.055"/>
<ellipse cx="23.1" cy="50.8" rx="1.1" ry="5.2" opacity="0.319"/>
<ellipse cx="22.5" cy="36.1" rx="0.7" ry="5.4" opacity="0.047"/>
<ellipse cx="25.7" cy="50.5" rx="1.1" ry="5.2" opacity="0.145"/>
<ellipse cx="25.8" cy="36.6" rx="0.7" ry="3.2" opacity="0.059"/>
<ellipse cx="36.9" cy="50.3" rx="1.1" ry="5.2" opacity="0.232"/>
<ellipse cx="37.5" cy="38.9" rx="0.7" ry="5.7" opacity="0.097"/>
<ellipse cx="40.4" cy="50.7" rx="1.1" ry="5.2" opacity="0.377"/>
<ellipse cx="41.0" cy="36.1" rx="0.7" ry="4.0" opacity="0.058"/>
<ellipse cx="43.0" cy="49.3" rx="1.1" ry="5.2" opacity="0.319"/>
<ellipse cx="42.8" cy="39.1" rx="0.7" ry="4.2" opacity="0.056"/>
<ellipse cx="45.4" cy="49.2" rx="1.1" ry="5.2" opacity="0.145"/>
<ellipse cx="45.5" cy="38.0" rx="0.7" ry="4.3" opacity="0.054"/>
<ellipse cx="54.7" cy="48.8" rx="1.1" ry="5.2" opacity="0.232"/>
<ellipse cx="54.3" cy="37.9" rx="0.7" ry="3.6" opacity="0.085"/>
<ellipse cx="57.8" cy="48.1" rx="1.1" ry="5.2" opacity="0.377"/>
<ellipse cx="58.0" cy="37.1" rx="0.7" ry="4.3" opacity="0.079"/>
<ellipse cx="60.8" cy="50.6" rx="1.1" ry="5.2" opacity="0.319"/>
<ellipse cx="61.1" cy="36.6" rx="0.7" ry="4.6" opacity="0.063"/>
<ellipse cx="62.7" cy="49.5" rx="1.1" ry="5.2" opacity="0.145"/>
<ellipse cx="62.7" cy="39.2" rx="0.7" ry="4.0" opacity="0.092"/>
<ellipse cx="74.7" cy="48.0" rx="1.1" ry="5.2" opacity="0.232"/>
<ellipse cx="75.0" cy="36.9" rx="0.7" ry="4.6" opacity="0.048"/>
<ellipse cx="76.9" cy="50.7" rx="1.1" ry="5.2" opacity="0.377"/>
<ellipse cx="76.4" cy="36.3" rx="0.7" ry="3.5" opacity="0.049"/>
<ellipse cx="80.8" cy="50.9" rx="1.1" ry="5.2" opacity="0.319"/>
<ellipse cx="80.9" cy="37.3" rx="0.7" ry="5.7" opacity="0.073"/>
<ellipse cx="82.8" cy="49.9" rx="1.1" ry="5.2" opacity="0.145"/>
<ellipse cx="82.6" cy="36.8" rx="0.7" ry="4.0" opacity="0.066"/>
<ellipse cx="88.9" cy="49.7" rx="1.1" ry="5.2" opacity="0.232"/>
<ellipse cx="89.4" cy="38.0" rx="0.7" ry="3.0" opacity="0.083"/>
<ellipse cx="91.6" cy="49.3" rx="1.1" ry="5.2" opacity="0.377"/>
<ellipse cx="92.0" cy="38.5" rx="0.7" ry="5.7" opacity="0.087"/>
<ellipse cx="94.7" cy="48.2" rx="1.1" ry="5.2" opacity="0.319"/>
<ellipse cx="94.7" cy="38.5" rx="0.7" ry="3.7" opacity="0.063"/>
<ellipse cx="98.1" cy="48.8" rx="1.1" ry="5.2" opacity="0.145"/>
<ellipse cx="98.3" cy="37.9" rx="0.7" ry="5.8" opacity="0.045"/>
</g>
<g filter="url(#bh)" fill="#fff">
<rect x="-5.0" y="98.0" width="101.0" height="1.1" opacity="0.420"/>
</g>
<g filter="url(#bd)" fill="#fff">
<ellipse cx="3.5" cy="49.9" rx="0.7" ry="2.8" opacity="0.120"/>
<ellipse cx="20.3" cy="49.9" rx="0.7" ry="2.8" opacity="0.120"/>
<ellipse cx="40.0" cy="49.9" rx="0.7" ry="2.8" opacity="0.120"/>
<ellipse cx="57.6" cy="49.9" rx="0.7" ry="2.8" opacity="0.120"/>
<ellipse cx="77.5" cy="49.9" rx="0.7" ry="2.8" opacity="0.120"/>
<ellipse cx="92.1" cy="49.9" rx="0.7" ry="2.8" opacity="0.120"/>
<ellipse cx="77.1" cy="50.7" rx="0.8" ry="2.8" opacity="0.450"/>
</g>
</g>
<g filter="url(#tb)" stroke="#222" stroke-width="0.08">
<rect x="95.8" y="0.2" width="8.9" height="97.7" fill="url(#cb)" stroke="#333" stroke-width="0.4"/>
<line x1="103.5" x2="104.7" y1="13.20" y2="13.20" stroke="#333" stroke-width="0.4"/>
<text x="107.2" y="15.50" font-size="7" fill="#222">2</text>
<line x1="103.5" x2="104.7" y1="34.50" y2="34.50" stroke="#333" stroke-width="0.4"/>
<text x="107.2" y="36.80" font-size="7" fill="#222">1.5</text>
<line x1="103.5" x2="104.7" y1="55.80" y2="55.80" stroke="#333" stroke-width="0.4"/>
<text x="107.2" y="58.10" font-size="7" fill="#222">1</text>
<line x1="103.5" x2="104.7" y1="77.10" y2="77.10" stroke="#333" stroke-width="0.4"/>
<text x="107.2" y="79.40" font-size="7" fill="#222">0.5</text>
<text x="-2.6" y="85.53" font-size="7" text-anchor="end" fill="#222">1000</text>
<text x="-2.6" y="68.97" font-size="7" text-anchor="end" fill="#222">2000</text>
<text x="-2.6" y="52.40" font-size="7" text-anchor="end" fill="#222">3000</text>
<text x="-2.6" y="35.83" font-size="7" text-anchor="end" fill="#222">4000</text>
<text x="-2.6" y="19.27" font-size="7" text-anchor="end" fill="#222">5000</text>
<text x="-2.6" y="3.30" font-size="7" text-anchor="end" fill="#222">6000</text>
<text x="0.00" y="109.4" font-size="7" text-anchor="middle" fill="#222">0</text>
<text x="27.00" y="109.4" font-size="7" text-anchor="middle" fill="#222">0.05</text>
<text x="54.00" y="109.4" font-size="7" text-anchor="middle" fill="#222">0.1</text>
<text x="81.00" y="109.4" font-size="7" text-anchor="middle" fill="#222">0.15</text>
<text x="45.4" y="117.6" font-size="7" text-anchor="middle" fill="#222">Time/s</text>
<text transform="translate(-20.6,49.7) rotate(-90)" font-size="7.1" text-anchor="middle" fill="#222">Frequency/Hz</text>
<text x="-6.60" y="128.7" font-size="9.2" fill="#111" stroke-width="0.25">(i) Wavelet scalogram of class 9</text>
</g>
</g>
<g transform="translate(29.70,413.55)">
<g filter="url(#parula)">
<rect x="-5" y="-5" width="101.0" height="109.4" fill="#000"/>
<g filter="url(#bl)" fill="#fff">
<rect x="-5.0" y="39.0" width="101.0" height="24.0" opacity="0.070"/>
<rect x="-5.0" y="75.0" width="101.0" height="20.0" opacity="0.040"/>
</g>
<g filter="url(#bm)" fill="#fff">
<rect x="-5.0" y="-5.0" width="101.0" height="109.4" opacity="0.012"/>
<ellipse cx="6.0" cy="75.5" rx="2.2" ry="1.0" opacity="0.080"/>
<ellipse cx="17.5" cy="75.5" rx="2.2" ry="1.0" opacity="0.080"/>
<ellipse cx="29.0" cy="75.5" rx="2.2" ry="1.0" opacity="0.080"/>
<ellipse cx="40.5" cy="75.5" rx="2.2" ry="1.0" opacity="0.080"/>
<ellipse cx="52.0" cy="75.5" rx="2.2" ry="1.0" opacity="0.080"/>
<ellipse cx="63.5" cy="75.5" rx="2.2" ry="1.0" opacity="0.080"/>
<ellipse cx="75.0" cy="75.5" rx="2.2" ry="1.0" opacity="0.080"/>
<ellipse cx="86.5" cy="75.5" rx="2.2" ry="1.0" opacity="0.080"/>
<rect x="-5.0" y="79.8" width="101.0" height="1.8" opacity="0.110"/>
<ellipse cx="6.5" cy="80.7" rx="5.0" ry="1.0" opacity="0.260"/>
<ellipse cx="19.7" cy="80.7" rx="5.0" ry="1.0" opacity="0.180"/>
<ellipse cx="59.3" cy="80.7" rx="5.0" ry="1.0" opacity="0.200"/>
<ellipse cx="81.6" cy="80.7" rx="5.0" ry="1.0" opacity="0.200"/>
<ellipse cx="39.0" cy="80.7" rx="5.0" ry="1.0" opacity="0.080"/>
<rect x="-5.0" y="87.3" width="101.0" height="3.0" opacity="0.130"/>
<ellipse cx="5.5" cy="88.8" rx="6.0" ry="1.5" opacity="0.360"/>
<ellipse cx="41.0" cy="88.8" rx="6.0" ry="1.5" opacity="0.360"/>
<ellipse cx="77.5" cy="88.8" rx="6.0" ry="1.5" opacity="0.300"/>
<ellipse cx="22.7" cy="88.8" rx="6.0" ry="1.5" opacity="0.080"/>
<ellipse cx="59.3" cy="88.8" rx="6.0" ry="1.5" opacity="0.080"/>
<rect x="-5.0" y="93.5" width="101.0" height="3.0" opacity="0.040"/>
</g>
<g filter="url(#bs)" fill="#fff">
<ellipse cx="1.3" cy="44.7" rx="0.9" ry="6.3" opacity="0.151"/>
<ellipse cx="3.8" cy="52.6" rx="0.9" ry="5.1" opacity="0.086"/>
<ellipse cx="5.1" cy="64.5" rx="0.8" ry="6.4" opacity="0.122"/>
<ellipse cx="7.7" cy="45.6" rx="1.0" ry="5.7" opacity="0.103"/>
<ellipse cx="10.7" cy="48.7" rx="1.2" ry="6.9" opacity="0.170"/>
<ellipse cx="12.8" cy="48.0" rx="0.8" ry="3.0" opacity="0.061"/>
<ellipse cx="15.8" cy="48.6" rx="1.3" ry="4.3" opacity="0.115"/>
<ellipse cx="16.9" cy="54.1" rx="0.8" ry="5.3" opacity="0.154"/>
<ellipse cx="18.6" cy="50.7" rx="0.8" ry="5.0" opacity="0.150"/>
<ellipse cx="22.0" cy="54.6" rx="1.1" ry="6.4" opacity="0.063"/>
<ellipse cx="24.0" cy="45.7" rx="0.9" ry="6.1" opacity="0.056"/>
<ellipse cx="25.4" cy="54.3" rx="1.3" ry="6.8" opacity="0.100"/>
<ellipse cx="28.2" cy="50.1" rx="1.2" ry="3.7" opacity="0.059"/>
<ellipse cx="30.6" cy="53.6" rx="0.9" ry="5.6" opacity="0.151"/>
<ellipse cx="33.6" cy="45.9" rx="1.1" ry="3.0" opacity="0.136"/>
<ellipse cx="34.9" cy="50.5" rx="1.0" ry="3.3" opacity="0.102"/>
<ellipse cx="37.7" cy="43.0" rx="1.2" ry="4.0" opacity="0.112"/>
<ellipse cx="40.7" cy="55.8" rx="1.1" ry="5.4" opacity="0.052"/>
<ellipse cx="42.1" cy="45.6" rx="1.0" ry="5.3" opacity="0.114"/>
<ellipse cx="44.3" cy="51.1" rx="0.9" ry="4.8" opacity="0.170"/>
<ellipse cx="46.4" cy="50.3" rx="1.1" ry="3.2" opacity="0.056"/>
<ellipse cx="48.0" cy="50.1" rx="1.1" ry="7.0" opacity="0.107"/>
<ellipse cx="51.1" cy="45.1" rx="1.1" ry="5.9" opacity="0.161"/>
<ellipse cx="53.9" cy="52.1" rx="1.0" ry="5.6" opacity="0.162"/>
<ellipse cx="54.9" cy="50.5" rx="1.2" ry="5.6" opacity="0.120"/>
<ellipse cx="58.8" cy="56.2" rx="1.1" ry="6.2" opacity="0.169"/>
<ellipse cx="60.1" cy="54.5" rx="1.3" ry="3.2" opacity="0.163"/>
<ellipse cx="63.2" cy="44.4" rx="1.4" ry="6.9" opacity="0.081"/>
<ellipse cx="65.2" cy="53.8" rx="1.3" ry="3.8" opacity="0.089"/>
<ellipse cx="66.2" cy="54.7" rx="0.9" ry="3.8" opacity="0.056"/>
<ellipse cx="70.5" cy="53.8" rx="1.2" ry="5.8" opacity="0.112"/>
<ellipse cx="71.5" cy="46.7" rx="1.2" ry="5.2" opacity="0.078"/>
<ellipse cx="73.6" cy="45.6" rx="0.9" ry="5.4" opacity="0.158"/>
<ellipse cx="77.1" cy="45.5" rx="1.2" ry="3.3" opacity="0.099"/>
<ellipse cx="77.6" cy="53.2" rx="1.1" ry="6.0" opacity="0.126"/>
<ellipse cx="80.3" cy="51.2" rx="1.2" ry="5.0" opacity="0.110"/>
<ellipse cx="82.5" cy="46.2" rx="1.2" ry="4.9" opacity="0.102"/>
<ellipse cx="85.3" cy="51.5" rx="1.1" ry="5.8" opacity="0.137"/>
<ellipse cx="88.3" cy="43.4" rx="1.4" ry="7.0" opacity="0.138"/>
<ellipse cx="88.9" cy="54.5" rx="1.3" ry="6.3" opacity="0.046"/>
<ellipse cx="1.0" cy="26.4" rx="0.8" ry="5.1" opacity="0.037"/>
<ellipse cx="3.5" cy="37.4" rx="0.6" ry="7.2" opacity="0.070"/>
<ellipse cx="6.7" cy="29.6" rx="0.6" ry="6.3" opacity="0.048"/>
<ellipse cx="12.1" cy="17.7" rx="0.9" ry="4.1" opacity="0.038"/>
<ellipse cx="14.7" cy="24.6" rx="0.9" ry="7.1" opacity="0.071"/>
<ellipse cx="16.2" cy="27.3" rx="0.6" ry="6.8" opacity="0.031"/>
<ellipse cx="19.9" cy="33.2" rx="0.8" ry="4.7" opacity="0.036"/>
<ellipse cx="23.1" cy="26.1" rx="0.9" ry="8.0" opacity="0.030"/>
<ellipse cx="27.1" cy="25.4" rx="0.7" ry="6.3" opacity="0.044"/>
<ellipse cx="27.7" cy="29.7" rx="0.9" ry="6.8" opacity="0.056"/>
<ellipse cx="32.5" cy="33.1" rx="0.9" ry="7.3" opacity="0.044"/>
<ellipse cx="35.1" cy="29.7" rx="0.7" ry="4.8" opacity="0.048"/>
<ellipse cx="36.9" cy="32.9" rx="0.8" ry="6.3" opacity="0.071"/>
<ellipse cx="41.8" cy="28.7" rx="0.7" ry="5.5" opacity="0.031"/>
<ellipse cx="42.6" cy="25.4" rx="0.6" ry="4.7" opacity="0.057"/>
<ellipse cx="46.6" cy="41.3" rx="0.6" ry="7.8" opacity="0.031"/>
<ellipse cx="50.3" cy="25.9" rx="0.6" ry="4.7" opacity="0.047"/>
<ellipse cx="53.8" cy="32.0" rx="0.7" ry="7.1" opacity="0.067"/>
<ellipse cx="55.1" cy="34.8" rx="0.7" ry="6.1" opacity="0.068"/>
<ellipse cx="58.8" cy="25.5" rx="0.6" ry="7.8" opacity="0.034"/>
<ellipse cx="61.0" cy="29.2" rx="0.7" ry="6.6" opacity="0.068"/>
<ellipse cx="64.7" cy="25.8" rx="0.9" ry="6.5" opacity="0.055"/>
<ellipse cx="68.3" cy="32.9" rx="0.8" ry="6.8" opacity="0.033"/>
<ellipse cx="71.7" cy="30.2" rx="0.7" ry="6.3" opacity="0.046"/>
<ellipse cx="73.5" cy="21.9" rx="0.6" ry="7.4" opacity="0.052"/>
<ellipse cx="76.1" cy="40.4" rx="0.9" ry="4.1" opacity="0.065"/>
<ellipse cx="79.9" cy="37.0" rx="0.7" ry="6.5" opacity="0.072"/>
<ellipse cx="82.4" cy="26.1" rx="0.6" ry="5.2" opacity="0.065"/>
<ellipse cx="85.7" cy="30.2" rx="0.8" ry="5.7" opacity="0.053"/>
<ellipse cx="88.1" cy="36.9" rx="0.6" ry="4.1" opacity="0.031"/>
<ellipse cx="6.5" cy="56.8" rx="1.1" ry="4.6" opacity="0.290"/>
<ellipse cx="19.7" cy="49.3" rx="1.1" ry="4.6" opacity="0.290"/>
<ellipse cx="41.0" cy="54.4" rx="1.1" ry="4.6" opacity="0.290"/>
<ellipse cx="56.2" cy="51.3" rx="1.1" ry="4.6" opacity="0.290"/>
<ellipse cx="77.5" cy="53.4" rx="1.1" ry="4.6" opacity="0.290"/>
<ellipse cx="4.5" cy="45.3" rx="1.1" ry="4.6" opacity="0.290"/>
<ellipse cx="42.0" cy="43.2" rx="1.1" ry="4.6" opacity="0.290"/>
<ellipse cx="61.3" cy="43.2" rx="1.1" ry="4.6" opacity="0.290"/>
</g>
</g>
<g filter="url(#tb)" stroke="#222" stroke-width="0.08">
<rect x="95.8" y="0.2" width="8.9" height="97.7" fill="url(#cb)" stroke="#333" stroke-width="0.4"/>
<line x1="103.5" x2="104.7" y1="21.40" y2="21.40" stroke="#333" stroke-width="0.4"/>
<text x="107.2" y="23.70" font-size="7" fill="#222">1.5</text>
<line x1="103.5" x2="104.7" y1="46.90" y2="46.90" stroke="#333" stroke-width="0.4"/>
<text x="107.2" y="49.20" font-size="7" fill="#222">1</text>
<line x1="103.5" x2="104.7" y1="72.40" y2="72.40" stroke="#333" stroke-width="0.4"/>
<text x="107.2" y="74.70" font-size="7" fill="#222">0.5</text>
<text x="-2.6" y="85.53" font-size="7" text-anchor="end" fill="#222">1000</text>
<text x="-2.6" y="68.97" font-size="7" text-anchor="end" fill="#222">2000</text>
<text x="-2.6" y="52.40" font-size="7" text-anchor="end" fill="#222">3000</text>
<text x="-2.6" y="35.83" font-size="7" text-anchor="end" fill="#222">4000</text>
<text x="-2.6" y="19.27" font-size="7" text-anchor="end" fill="#222">5000</text>
<text x="-2.6" y="3.30" font-size="7" text-anchor="end" fill="#222">6000</text>
<text x="0.00" y="109.4" font-size="7" text-anchor="middle" fill="#222">0</text>
<text x="27.00" y="109.4" font-size="7" text-anchor="middle" fill="#222">0.05</text>
<text x="54.00" y="109.4" font-size="7" text-anchor="middle" fill="#222">0.1</text>
<text x="81.00" y="109.4" font-size="7" text-anchor="middle" fill="#222">0.15</text>
<text x="45.4" y="117.6" font-size="7" text-anchor="middle" fill="#222">Time/s</text>
<text transform="translate(-20.6,49.7) rotate(-90)" font-size="7.1" text-anchor="middle" fill="#222">Frequency/Hz</text>
<text x="-9.10" y="128.7" font-size="9.2" fill="#111" stroke-width="0.25">(j) Wavelet scalogram of class 10</text>
</g>
</g>
</svg>
</body></html>
